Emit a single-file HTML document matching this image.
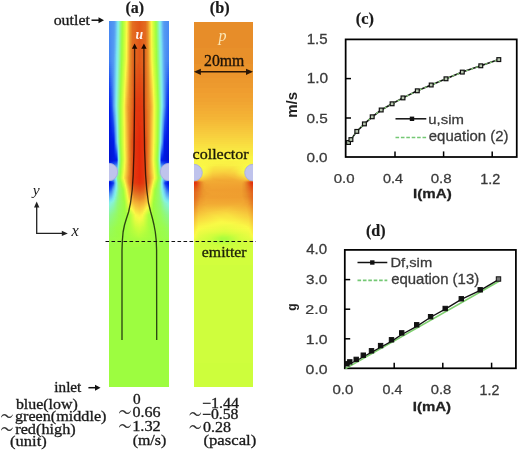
<!DOCTYPE html>
<html><head><meta charset="utf-8"><style>
html,body{margin:0;padding:0;background:#fff;width:520px;height:454px;overflow:hidden}
.f{position:absolute}
.f i{display:block}
svg{position:absolute;left:0;top:0}
</style></head><body>
<div class="f" style="left:109px;top:21px;width:60px;height:366px"><i style="height:3px;background:linear-gradient(90deg,#498cf2 0.5px,#5197f2 4.5px,#569ef2 5.5px,#63b0f2 6.5px,#7ce5ed 8.5px,#86f1e0 9.5px,#8af4b7 10.5px,#8ef787 11.5px,#96fa5f 12.5px,#a1fd3f 13.5px,#c8fe3c 15.5px,#f4fb45 17.5px,#f9e642 18.5px,#f2a933 20.5px,#e9922b 21.5px,#e47022 23.5px,#e2621d 26.5px,#e15819 30.5px,#e36c21 36.5px,#e78e29 38.5px,#f1a331 39.5px,#f9e141 41.5px,#f8fa46 42.5px,#ccfe3c 44.5px,#a4fd3f 46.5px,#98fb57 47.5px,#90f87f 48.5px,#87f2db 50.5px,#7ee8ea 51.5px,#71d0f2 52.5px,#65b4f2 53.5px,#59a2f2 54.5px,#5298f2 55.5px,#4a8cf2 59.5px)"></i><i style="height:3px;background:linear-gradient(90deg,#498bf2 0.5px,#5197f2 4.5px,#57a0f2 5.5px,#64b2f2 6.5px,#6fccf2 7.5px,#7de6ec 8.5px,#87f1df 9.5px,#8ff784 11.5px,#97fb5d 12.5px,#a2fd3f 13.5px,#c9fe3c 15.5px,#f4fa45 17.5px,#f9e542 18.5px,#f1a933 20.5px,#e9912b 21.5px,#e46f21 23.5px,#e25f1c 27.5px,#e15819 30.5px,#e36c20 36.5px,#e78d29 38.5px,#f0a331 39.5px,#f9fa46 42.5px,#cdfe3c 44.5px,#a5fd3e 46.5px,#98fb55 47.5px,#90f87d 48.5px,#87f2d8 50.5px,#7ee8e9 51.5px,#72d2f2 52.5px,#66b6f2 53.5px,#5aa3f2 54.5px,#5298f2 55.5px,#498bf2 59.5px)"></i><i style="height:3px;background:linear-gradient(90deg,#488af2 0.5px,#5298f2 4.5px,#58a1f2 5.5px,#65b4f2 6.5px,#70cef2 7.5px,#7de7eb 8.5px,#87f2dd 9.5px,#8ff782 11.5px,#97fb5b 12.5px,#a2fd3f 13.5px,#cafe3c 15.5px,#f5fa45 17.5px,#f9e442 18.5px,#f1a832 20.5px,#e9912a 21.5px,#e46f21 23.5px,#e25c1b 28.5px,#e15819 30.5px,#e36c20 36.5px,#e78d29 38.5px,#f0a231 39.5px,#fafa46 42.5px,#cefe3c 44.5px,#a6fd3e 46.5px,#99fb53 47.5px,#8bf5a8 49.5px,#88f3d5 50.5px,#7fe9e8 51.5px,#73d4f2 52.5px,#67b8f2 53.5px,#5ba5f2 54.5px,#5299f2 55.5px,#498bf2 59.5px)"></i><i style="height:3px;background:linear-gradient(90deg,#4889f2 0.5px,#5298f2 4.5px,#59a2f2 5.5px,#66b6f2 6.5px,#71d0f2 7.5px,#7ee8ea 8.5px,#87f2db 9.5px,#8ff880 11.5px,#98fb59 12.5px,#a3fd3f 13.5px,#cbfe3c 15.5px,#f6fa45 17.5px,#f9e342 18.5px,#f1a732 20.5px,#e9902a 21.5px,#e46f21 23.5px,#e15919 29.5px,#e2611d 33.5px,#e36c20 36.5px,#e78c29 38.5px,#f0a130 39.5px,#faf946 42.5px,#cffe3d 44.5px,#a7fd3e 46.5px,#99fc51 47.5px,#8cf5a5 49.5px,#88f3d3 50.5px,#80eae8 51.5px,#73d6f2 52.5px,#67baf2 53.5px,#5ba6f2 54.5px,#5399f2 55.5px,#488af2 59.5px)"></i><i style="height:3px;background:linear-gradient(90deg,#4789f2 0.5px,#5298f2 4.5px,#5aa3f2 5.5px,#66b7f2 6.5px,#72d2f2 7.5px,#7ee8e9 8.5px,#87f2d8 9.5px,#90f87e 11.5px,#98fb56 12.5px,#a4fd3f 13.5px,#cbfe3c 15.5px,#f7fa45 17.5px,#f6c63b 19.5px,#f1a632 20.5px,#e8902a 21.5px,#e46e21 23.5px,#e15919 29.5px,#e2611d 33.5px,#e36c20 36.5px,#e78c29 38.5px,#f0a130 39.5px,#faf846 42.5px,#d0fe3d 44.5px,#a8fd3e 46.5px,#9afc4f 47.5px,#8cf5a2 49.5px,#88f3d0 50.5px,#80ebe7 51.5px,#74d8f2 52.5px,#68bcf2 53.5px,#5ca7f2 54.5px,#539af2 55.5px,#4889f2 59.5px)"></i><i style="height:3px;background:linear-gradient(90deg,#4788f2 0.5px,#5299f2 4.5px,#5ba5f2 5.5px,#67b9f2 6.5px,#73d4f2 7.5px,#7fe9e9 8.5px,#88f2d5 9.5px,#90f87c 11.5px,#99fb54 12.5px,#a5fd3e 13.5px,#ccfe3c 15.5px,#f8fa46 17.5px,#f6c53b 19.5px,#f1a532 20.5px,#e88f2a 21.5px,#e46e21 23.5px,#e15819 30.5px,#e36b20 36.5px,#e78c29 38.5px,#f0a030 39.5px,#faf745 42.5px,#bbfe3d 45.5px,#a9fd3e 46.5px,#9afc4d 47.5px,#8cf69f 49.5px,#88f3cd 50.5px,#81ebe6 51.5px,#75daf2 52.5px,#69bef2 53.5px,#5da8f2 54.5px,#549af2 55.5px,#4789f2 59.5px)"></i><i style="height:3px;background:linear-gradient(90deg,#4687f2 0.5px,#5299f2 4.5px,#5ca6f2 5.5px,#68bbf2 6.5px,#74d7f2 7.5px,#80eae8 8.5px,#88f3d3 9.5px,#91f87a 11.5px,#99fb52 12.5px,#a6fd3e 13.5px,#cdfe3c 15.5px,#f9fa46 17.5px,#f6c43a 19.5px,#f1a531 20.5px,#e88f2a 21.5px,#e36e21 23.5px,#e15819 30.5px,#e36b20 36.5px,#e78b29 38.5px,#f09f30 39.5px,#faf645 42.5px,#bcfe3d 45.5px,#a9fd3e 46.5px,#9bfc4b 47.5px,#8cf69d 49.5px,#89f3ca 50.5px,#82ece5 51.5px,#76dcf2 52.5px,#6ac0f2 53.5px,#5eaaf2 54.5px,#549bf2 55.5px,#4788f2 59.5px)"></i><i style="height:3px;background:linear-gradient(90deg,#4586f2 0.5px,#5399f2 4.5px,#5ca7f2 5.5px,#69bdf2 6.5px,#74d9f2 7.5px,#80eae7 8.5px,#88f3d0 9.5px,#91f877 11.5px,#99fc50 12.5px,#a7fd3e 13.5px,#cefe3c 15.5px,#fafa46 17.5px,#f1a431 20.5px,#e88e29 21.5px,#e36d21 23.5px,#e15819 30.5px,#e36b20 36.5px,#e78b29 38.5px,#ef9f30 39.5px,#faf545 42.5px,#d3fd3d 44.5px,#aafd3e 46.5px,#9bfc49 47.5px,#8cf69a 49.5px,#89f3c8 50.5px,#82ede4 51.5px,#77def2 52.5px,#5fabf2 54.5px,#549cf2 55.5px,#4687f2 59.5px)"></i><i style="height:3px;background:linear-gradient(90deg,#4485f2 0.5px,#5399f2 4.5px,#5da8f2 5.5px,#69bef2 6.5px,#75dbf2 7.5px,#81ebe6 8.5px,#88f3ce 9.5px,#92f875 11.5px,#9afc4e 12.5px,#a8fd3e 13.5px,#cffe3d 15.5px,#fafa46 17.5px,#f0a331 20.5px,#e78e29 21.5px,#e36d21 23.5px,#e15819 30.5px,#e36b20 36.5px,#e78a28 38.5px,#ef9e2f 39.5px,#faf445 42.5px,#d3fd3e 44.5px,#abfd3e 46.5px,#9bfc47 47.5px,#8df697 49.5px,#89f3c5 50.5px,#83ede3 51.5px,#78e0f2 52.5px,#60acf2 54.5px,#559cf2 55.5px,#498bf2 58.5px,#4586f2 59.5px)"></i><i style="height:3px;background:linear-gradient(90deg,#4484f2 0.5px,#539af2 4.5px,#5ea9f2 5.5px,#6ac0f2 6.5px,#76ddf2 7.5px,#82ece5 8.5px,#89f3cb 9.5px,#92f973 11.5px,#9afc4c 12.5px,#a8fd3e 13.5px,#d0fe3d 15.5px,#faf946 17.5px,#f0a231 20.5px,#e78d29 21.5px,#e36d21 23.5px,#e15819 30.5px,#e36b20 36.5px,#e78a28 38.5px,#ef9d2f 39.5px,#faf345 42.5px,#eafb42 43.5px,#bffe3d 45.5px,#9cfd45 47.5px,#8df695 49.5px,#89f4c2 50.5px,#84eee3 51.5px,#79e2f1 52.5px,#61adf2 54.5px,#559df2 55.5px,#4b8ff2 57.5px,#4585f2 59.5px)"></i><i style="height:3px;background:linear-gradient(90deg,#4383f2 0.5px,#539af2 4.5px,#5fabf2 5.5px,#6bc2f2 6.5px,#77dff2 7.5px,#82ede4 8.5px,#89f3c9 9.5px,#93f971 11.5px,#9bfc4a 12.5px,#a9fd3e 13.5px,#d1fe3d 15.5px,#faf846 17.5px,#f0a130 20.5px,#e78d29 21.5px,#e36c21 23.5px,#e15819 30.5px,#e36b20 36.5px,#e78a28 38.5px,#ee9d2f 39.5px,#faf345 42.5px,#ebfb43 43.5px,#c0fe3d 45.5px,#9cfd43 47.5px,#8df692 49.5px,#89f4c0 50.5px,#84efe2 51.5px,#7ae3f0 52.5px,#62aff2 54.5px,#559df2 55.5px,#4b8ef2 57.5px,#4484f2 59.5px)"></i><i style="height:3px;background:linear-gradient(90deg,#4282f2 0.5px,#549af2 4.5px,#60acf2 5.5px,#78e1f2 7.5px,#83ede3 8.5px,#89f3c6 9.5px,#93f96f 11.5px,#9bfc48 12.5px,#aafd3e 13.5px,#d2fd3d 15.5px,#faf745 17.5px,#f0a030 20.5px,#e78c29 21.5px,#e36c20 23.5px,#e15819 30.5px,#e36a20 36.5px,#e78928 38.5px,#ee9c2f 39.5px,#faf244 42.5px,#ebfb43 43.5px,#aefd3e 46.5px,#9dfd41 47.5px,#8df78f 49.5px,#8af4bd 50.5px,#85f0e1 51.5px,#7be4ee 52.5px,#62b0f2 54.5px,#569ef2 55.5px,#4b8ef2 57.5px,#4383f2 59.5px)"></i><i style="height:3px;background:linear-gradient(90deg,#4180f2 0.5px,#549bf2 4.5px,#6cc5f2 6.5px,#79e2f1 7.5px,#84eee3 8.5px,#89f4c3 9.5px,#93f96d 11.5px,#9cfc46 12.5px,#abfd3e 13.5px,#d3fd3d 15.5px,#faf645 17.5px,#f0a030 20.5px,#e78c29 21.5px,#e36c20 23.5px,#e15819 30.5px,#e36a20 36.5px,#e78928 38.5px,#ee9b2e 39.5px,#faf144 42.5px,#ecfb43 43.5px,#affd3e 46.5px,#9dfd3f 47.5px,#8ef78c 49.5px,#8af4ba 50.5px,#86f0e0 51.5px,#7ce5ed 52.5px,#63b1f2 54.5px,#569ef2 55.5px,#4e93f2 56.5px,#4282f2 59.5px)"></i><i style="height:2px;background:linear-gradient(90deg,#407ef2 0.5px,#549bf2 4.5px,#6dc7f2 6.5px,#7ae3ef 7.5px,#84efe2 8.5px,#89f4c1 9.5px,#94f96a 11.5px,#9cfd44 12.5px,#bffe3d 14.5px,#e9fb42 16.5px,#faf445 17.5px,#ef9f2f 20.5px,#e78c29 21.5px,#e36b20 23.5px,#e15819 30.5px,#e36a20 36.5px,#e78828 38.5px,#ed9b2e 39.5px,#f9ef44 42.5px,#eefb43 43.5px,#c3fe3d 45.5px,#9efd3f 47.5px,#8ef789 49.5px,#8af4b7 50.5px,#86f1df 51.5px,#7de6ec 52.5px,#70cdf2 53.5px,#64b2f2 54.5px,#579ff2 55.5px,#4e92f2 56.5px,#4180f2 59.5px)"></i><i style="height:2px;background:linear-gradient(90deg,#3c7af2 0.5px,#549af2 4.5px,#6dc8f2 6.5px,#7ae4ef 7.5px,#85f0e1 8.5px,#8af4be 9.5px,#8df790 10.5px,#9dfd41 12.5px,#d6fd3e 15.5px,#ecfb43 16.5px,#faf244 17.5px,#ef9d2f 20.5px,#e78b29 21.5px,#e36b20 23.5px,#e15618 30.5px,#e36920 36.5px,#ed9a2e 39.5px,#f9ec43 42.5px,#f0fb44 43.5px,#c5fe3c 45.5px,#a0fd3f 47.5px,#8ef786 49.5px,#87f2de 51.5px,#7de7eb 52.5px,#70cef2 53.5px,#64b3f2 54.5px,#569ef2 55.5px,#4d91f2 56.5px,#3d7bf2 59.5px)"></i><i style="height:2px;background:linear-gradient(90deg,#3975f1 0.5px,#539af2 4.5px,#6ec9f2 6.5px,#7be4ee 7.5px,#85f0e0 8.5px,#8af4bb 9.5px,#8ef78d 10.5px,#9dfd3f 12.5px,#d8fd3f 15.5px,#eefb43 16.5px,#f9ef44 17.5px,#ee9c2f 20.5px,#e78a28 21.5px,#e36b20 23.5px,#e15518 29.5px,#e2611d 34.5px,#e36920 36.5px,#ec992d 39.5px,#f9ea43 42.5px,#f3fb44 43.5px,#c7fe3c 45.5px,#a1fd3f 47.5px,#97fa5d 48.5px,#8ff784 49.5px,#87f2dd 51.5px,#7ee7eb 52.5px,#70cff2 53.5px,#64b3f2 54.5px,#569ef2 55.5px,#4c90f2 56.5px,#3a77f1 59.5px)"></i><i style="height:2px;background:linear-gradient(90deg,#3570f1 0.5px,#539af2 4.5px,#6ec9f2 6.5px,#7be5ed 7.5px,#86f1df 8.5px,#8af4b9 9.5px,#8ef78a 10.5px,#9ffd3f 12.5px,#dbfd3f 15.5px,#f1fb44 16.5px,#f9ec43 17.5px,#ee9b2e 20.5px,#e57a25 22.5px,#e36a20 23.5px,#e15417 29.5px,#e25f1c 34.5px,#e3691f 36.5px,#ec972d 39.5px,#f9e742 42.5px,#f5fa45 43.5px,#c9fe3c 45.5px,#a3fd3f 47.5px,#97fb5b 48.5px,#8ff781 49.5px,#87f2da 51.5px,#7ee8ea 52.5px,#71d0f2 53.5px,#65b3f2 54.5px,#569ef2 55.5px,#4c8ff2 56.5px,#3772f1 59.5px)"></i><i style="height:2px;background:linear-gradient(90deg,#326bf1 0.5px,#5399f2 4.5px,#6ecaf2 6.5px,#7ce6ed 7.5px,#87f2df 8.5px,#8af4b6 9.5px,#8ef787 10.5px,#96fa60 11.5px,#a0fd3f 12.5px,#c7fe3c 14.5px,#f3fb45 16.5px,#f9ea43 17.5px,#ed9a2e 20.5px,#e57a25 22.5px,#e36a20 23.5px,#e15518 28.5px,#e15418 31.5px,#e3681f 36.5px,#eb962c 39.5px,#f9e442 42.5px,#f8fa46 43.5px,#cbfe3c 45.5px,#a4fd3f 47.5px,#98fb58 48.5px,#90f87f 49.5px,#87f2d8 51.5px,#7fe8e9 52.5px,#71d1f2 53.5px,#65b4f2 54.5px,#569ef2 55.5px,#4b8ef2 56.5px,#336df1 59.5px)"></i><i style="height:2px;background:linear-gradient(90deg,#2e66f1 0.5px,#5399f2 4.5px,#6fcbf2 6.5px,#7ce6ec 7.5px,#87f2dd 8.5px,#8ff784 10.5px,#97fa5d 11.5px,#a2fd3f 12.5px,#c9fe3c 14.5px,#f6fa45 16.5px,#f9e742 17.5px,#ed992d 20.5px,#e36920 23.5px,#e15618 27.5px,#e15016 30.5px,#e2621d 35.5px,#e3681f 36.5px,#eb952c 39.5px,#f9e241 42.5px,#faf946 43.5px,#cdfe3c 45.5px,#a6fd3e 47.5px,#98fb55 48.5px,#90f87c 49.5px,#88f2d6 51.5px,#7fe9e9 52.5px,#71d1f2 53.5px,#65b4f2 54.5px,#4a8df2 56.5px,#3069f1 59.5px)"></i><i style="height:2px;background:linear-gradient(90deg,#2b62f1 0.5px,#5299f2 4.5px,#6fccf2 6.5px,#7de7eb 7.5px,#87f2db 8.5px,#8ff782 10.5px,#97fb5a 11.5px,#a3fd3f 12.5px,#cbfe3c 14.5px,#f8fa46 16.5px,#f3b135 19.5px,#ec982d 20.5px,#e3691f 23.5px,#e15518 27.5px,#e14f16 30.5px,#e2611d 35.5px,#e2671f 36.5px,#ea942c 39.5px,#f9df41 42.5px,#faf745 43.5px,#cffe3d 45.5px,#a7fd3e 47.5px,#99fb53 48.5px,#91f87a 49.5px,#88f3d3 51.5px,#7fe9e8 52.5px,#72d2f2 53.5px,#65b5f2 54.5px,#498bf2 56.5px,#2c64f1 59.5px)"></i><i style="height:2px;background:linear-gradient(90deg,#275df1 0.5px,#5298f2 4.5px,#6fcdf2 6.5px,#7de7eb 7.5px,#87f2d9 8.5px,#90f87f 10.5px,#98fb58 11.5px,#a5fd3f 12.5px,#ccfe3c 14.5px,#faf946 16.5px,#f3af35 19.5px,#ec972d 20.5px,#e3681f 23.5px,#e15618 26.5px,#e14d15 30.5px,#e1591a 34.5px,#e2671f 36.5px,#ea932b 39.5px,#f9dc40 42.5px,#faf445 43.5px,#d1fe3d 45.5px,#a9fd3e 47.5px,#99fc50 48.5px,#91f877 49.5px,#88f3d1 51.5px,#80eae7 52.5px,#72d3f2 53.5px,#65b5f2 54.5px,#488af2 56.5px,#295ff1 59.5px)"></i><i style="height:2px;background:linear-gradient(90deg,#2458f1 0.5px,#4586f2 3.5px,#5298f2 4.5px,#70cef2 6.5px,#7ee8ea 7.5px,#88f2d7 8.5px,#90f87d 10.5px,#98fb55 11.5px,#a6fd3e 12.5px,#cefe3d 14.5px,#faf645 16.5px,#f2ae34 19.5px,#eb952c 20.5px,#e3681f 23.5px,#e15418 26.5px,#e14c15 30.5px,#e15819 34.5px,#e2661f 36.5px,#e9922b 39.5px,#f5c13a 41.5px,#faf144 43.5px,#eafb43 44.5px,#befe3d 46.5px,#aafd3e 47.5px,#9afc4e 48.5px,#8cf5a2 50.5px,#88f3cf 51.5px,#80ebe7 52.5px,#72d4f2 53.5px,#559df2 55.5px,#3069f1 58.5px,#265bf1 59.5px)"></i><i style="height:2px;background:linear-gradient(90deg,#2053f0 0.5px,#4484f2 3.5px,#63b1f2 5.5px,#70cef2 6.5px,#7ee8e9 7.5px,#88f3d4 8.5px,#91f87a 10.5px,#99fb53 11.5px,#a8fd3e 12.5px,#d0fe3d 14.5px,#faf445 16.5px,#f2ac33 19.5px,#ea942c 20.5px,#e3681f 23.5px,#e15217 26.5px,#e14a14 30.5px,#e15618 34.5px,#e2661e 36.5px,#e9912a 39.5px,#f5be39 41.5px,#f9ef44 43.5px,#ecfb43 44.5px,#bffe3d 46.5px,#acfd3e 47.5px,#9bfc4b 48.5px,#8cf69f 50.5px,#88f3cc 51.5px,#81ebe6 52.5px,#73d5f2 53.5px,#559df2 55.5px,#2d65f1 58.5px,#2256f0 59.5px)"></i><i style="height:2px;background:linear-gradient(90deg,#1d4ff0 0.5px,#4282f2 3.5px,#63b1f2 5.5px,#70cff2 6.5px,#7fe9e9 7.5px,#88f3d2 8.5px,#91f878 10.5px,#99fc50 11.5px,#a9fd3e 12.5px,#d2fd3d 14.5px,#eafb42 15.5px,#faf144 16.5px,#f2aa33 19.5px,#ea932b 20.5px,#e2671f 23.5px,#e15116 26.5px,#e24914 30.5px,#e15518 34.5px,#e2651e 36.5px,#e8902a 39.5px,#f5bc38 41.5px,#f9ec43 43.5px,#effb44 44.5px,#c1fe3d 46.5px,#adfd3e 47.5px,#9bfc48 48.5px,#8cf69c 50.5px,#89f3ca 51.5px,#81ece5 52.5px,#73d6f2 53.5px,#559cf2 55.5px,#2a61f1 58.5px,#1f51f0 59.5px)"></i><i style="height:2px;background:linear-gradient(90deg,#194af0 0.5px,#4180f2 3.5px,#63b1f2 5.5px,#71d0f2 6.5px,#7fe9e8 7.5px,#88f3d0 8.5px,#92f876 10.5px,#9afc4d 11.5px,#abfd3e 12.5px,#d4fd3e 14.5px,#ecfb43 15.5px,#f9ee44 16.5px,#f1a832 19.5px,#e9922b 20.5px,#e2671f 23.5px,#e14f16 26.5px,#e24713 30.5px,#e15317 34.5px,#e2651e 36.5px,#e88f2a 39.5px,#f4ba37 41.5px,#f9e943 43.5px,#f1fb44 44.5px,#c3fe3d 46.5px,#affd3e 47.5px,#9cfc46 48.5px,#8cf69a 50.5px,#89f3c8 51.5px,#82ece5 52.5px,#74d7f2 53.5px,#559cf2 55.5px,#356ff1 57.5px,#1b4df0 59.5px)"></i><i style="height:2px;background:linear-gradient(90deg,#1746f0 0.5px,#3f7ef2 3.5px,#64b1f2 5.5px,#71d1f2 6.5px,#80eae7 7.5px,#88f3ce 8.5px,#92f973 10.5px,#9bfc4b 11.5px,#acfd3e 12.5px,#d6fd3e 14.5px,#eefb43 15.5px,#f9ec43 16.5px,#f1a632 19.5px,#e9912a 20.5px,#e2661f 23.5px,#e14d15 26.5px,#e24613 30.5px,#e15217 34.5px,#e2641e 36.5px,#e78e29 39.5px,#f4b737 41.5px,#f9e642 43.5px,#f3fb44 44.5px,#c5fe3c 46.5px,#9cfd43 48.5px,#8df697 50.5px,#89f3c5 51.5px,#82ede4 52.5px,#74d8f2 53.5px,#559cf2 55.5px,#326cf1 57.5px,#1848f0 59.5px)"></i><i style="height:2px;background:linear-gradient(90deg,#1543ef 0.5px,#2d65f1 2.5px,#5196f2 4.5px,#71d2f2 6.5px,#80ebe7 7.5px,#88f3cc 8.5px,#93f971 10.5px,#9bfc48 11.5px,#aefd3e 12.5px,#d8fd3f 14.5px,#f0fb44 15.5px,#f9e943 16.5px,#f1a431 19.5px,#e8902a 20.5px,#e25c1b 24.5px,#e14c15 26.5px,#e24413 30.5px,#e15016 34.5px,#e2641e 36.5px,#e78d29 39.5px,#f3b536 41.5px,#f9e442 43.5px,#f5fa45 44.5px,#c6fe3c 46.5px,#9dfd40 48.5px,#8df694 50.5px,#89f4c3 51.5px,#83ede3 52.5px,#74d8f2 53.5px,#549cf2 55.5px,#3069f1 57.5px,#1645ef 59.5px)"></i><i style="height:2px;background:linear-gradient(90deg,#133fee 0.5px,#1c4df0 1.5px,#3c7af2 3.5px,#64b2f2 5.5px,#72d2f2 6.5px,#81ebe6 7.5px,#89f3c9 8.5px,#93f96e 10.5px,#9cfc46 11.5px,#affd3e 12.5px,#dafd3f 14.5px,#f2fb44 15.5px,#f9e642 16.5px,#f0a331 19.5px,#e88f2a 20.5px,#e25b1a 24.5px,#e14a14 26.5px,#e24312 30.5px,#e14e16 34.5px,#e47222 37.5px,#e78c29 39.5px,#f3b235 41.5px,#f7fa45 44.5px,#c8fe3c 46.5px,#9efd3f 48.5px,#8df692 50.5px,#89f4c1 51.5px,#83eee3 52.5px,#75d9f2 53.5px,#549bf2 55.5px,#2e66f1 57.5px,#1441ef 59.5px)"></i><i style="height:2px;background:linear-gradient(90deg,#113cee 0.5px,#1949f0 1.5px,#3b77f2 3.5px,#64b2f2 5.5px,#72d3f2 6.5px,#81ece5 7.5px,#89f3c7 8.5px,#94f96c 10.5px,#9cfd43 11.5px,#c5fe3c 13.5px,#f4fa45 15.5px,#f9e442 16.5px,#f0a130 19.5px,#e78d29 20.5px,#e14f16 25.5px,#e24613 27.5px,#e24412 31.5px,#e14d15 34.5px,#e47122 37.5px,#e78b29 39.5px,#f3b035 41.5px,#f9de41 43.5px,#fafa46 44.5px,#cafe3c 46.5px,#9ffd3f 48.5px,#95fa63 49.5px,#8af4be 51.5px,#84efe2 52.5px,#75daf2 53.5px,#549bf2 55.5px,#2c63f1 57.5px,#1c4ef0 58.5px,#133eee 59.5px)"></i><i style="height:2px;background:linear-gradient(90deg,#1038ed 0.5px,#1746f0 1.5px,#3975f1 3.5px,#64b2f2 5.5px,#72d4f2 6.5px,#82ece5 7.5px,#89f3c5 8.5px,#94f969 10.5px,#9dfd40 11.5px,#c7fe3c 13.5px,#f6fa45 15.5px,#f7c93c 17.5px,#ef9f30 19.5px,#e78c29 20.5px,#e14e15 25.5px,#e24413 27.5px,#e24212 31.5px,#e14b15 34.5px,#e47122 37.5px,#e78a28 39.5px,#f2ad34 41.5px,#f9db40 43.5px,#faf846 44.5px,#ccfe3c 46.5px,#a1fd3f 48.5px,#96fa61 49.5px,#8af4bc 51.5px,#84efe1 52.5px,#75dbf2 53.5px,#549bf2 55.5px,#2a60f1 57.5px,#194af0 58.5px,#113bee 59.5px)"></i><i style="height:2px;background:linear-gradient(90deg,#0e35ed 0.5px,#1543ef 1.5px,#3873f1 3.5px,#64b3f2 5.5px,#73d5f2 6.5px,#82ede4 7.5px,#89f4c3 8.5px,#95fa67 10.5px,#9efd3f 11.5px,#c9fe3c 13.5px,#f9fa46 15.5px,#f3b035 18.5px,#e78c29 20.5px,#e14c15 25.5px,#e24312 27.5px,#e24011 31.5px,#e14a14 34.5px,#e78928 39.5px,#f2ab33 41.5px,#f8d940 43.5px,#faf645 44.5px,#cdfe3c 46.5px,#a2fd3f 48.5px,#96fa5e 49.5px,#8af4ba 51.5px,#85f0e1 52.5px,#76dcf2 53.5px,#549bf2 55.5px,#285df1 57.5px,#1746f0 58.5px,#0f38ed 59.5px)"></i><i style="height:2px;background:linear-gradient(90deg,#0c32ec 0.5px,#1440ef 1.5px,#2255f0 2.5px,#3671f1 3.5px,#64b3f2 5.5px,#73d6f2 6.5px,#83ede3 7.5px,#89f4c0 8.5px,#95fa64 10.5px,#9ffd3f 11.5px,#cafe3c 13.5px,#faf946 15.5px,#f6c43a 17.5px,#ed9b2e 19.5px,#e68026 21.5px,#e14b14 25.5px,#e24112 27.5px,#e23f11 31.5px,#e24814 34.5px,#e78928 39.5px,#f1a933 41.5px,#f8d63f 43.5px,#faf345 44.5px,#e6fc42 45.5px,#b9fe3d 47.5px,#a4fd3f 48.5px,#97fb5c 49.5px,#8af4b7 51.5px,#85f0e0 52.5px,#76ddf2 53.5px,#549bf2 55.5px,#255af1 57.5px,#1644ef 58.5px,#0d34ec 59.5px)"></i><i style="height:2px;background:linear-gradient(90deg,#0a2eeb 0.5px,#2052f0 2.5px,#356ff1 3.5px,#65b3f2 5.5px,#74d6f2 6.5px,#83eee3 7.5px,#8af4be 8.5px,#96fa62 10.5px,#a1fd3f 11.5px,#ccfe3c 13.5px,#faf745 15.5px,#f8d940 16.5px,#f2ab33 18.5px,#e78a28 20.5px,#e14914 25.5px,#e24212 26.5px,#e33c10 30.5px,#e24713 34.5px,#eb952c 40.5px,#f5bd38 42.5px,#f8d33f 43.5px,#faf144 44.5px,#e8fc42 45.5px,#bbfe3d 47.5px,#a5fd3e 48.5px,#98fb59 49.5px,#8af4b5 51.5px,#86f1df 52.5px,#77def2 53.5px,#539af2 55.5px,#2357f0 57.5px,#1441ef 58.5px,#0c31ec 59.5px)"></i><i style="height:2px;background:linear-gradient(90deg,#082beb 0.5px,#1d4ff0 2.5px,#336df1 3.5px,#4f94f2 4.5px,#65b3f2 5.5px,#74d7f2 6.5px,#84efe2 7.5px,#8af4bc 8.5px,#96fa60 10.5px,#a2fd3f 11.5px,#cefe3c 13.5px,#faf545 15.5px,#f8d63f 16.5px,#f1a832 18.5px,#e78928 20.5px,#e24814 25.5px,#e24011 26.5px,#e33a0f 30.5px,#e23f11 33.5px,#e24513 34.5px,#ea942b 40.5px,#f1a431 41.5px,#f8d03e 43.5px,#f9ef44 44.5px,#eafb43 45.5px,#bcfe3d 47.5px,#a6fd3e 48.5px,#98fb57 49.5px,#8af4b3 51.5px,#86f1df 52.5px,#77dff2 53.5px,#539af2 55.5px,#2154f0 57.5px,#0a2eeb 59.5px)"></i><i style="height:2px;background:linear-gradient(90deg,#0628ea 0.5px,#1b4cf0 2.5px,#326bf1 3.5px,#4f93f2 4.5px,#65b4f2 5.5px,#74d8f2 6.5px,#84efe1 7.5px,#8af4ba 8.5px,#97fa5d 10.5px,#a4fd3f 11.5px,#cffe3d 13.5px,#e7fc42 14.5px,#faf245 15.5px,#f8d43f 16.5px,#f1a632 18.5px,#e78828 20.5px,#e15518 24.5px,#e23e11 26.5px,#e33a0f 31.5px,#e24412 34.5px,#e67c25 38.5px,#e9922b 40.5px,#f0a130 41.5px,#f8ce3d 43.5px,#f9ec43 44.5px,#ecfb43 45.5px,#befe3d 47.5px,#a8fd3e 48.5px,#99fb54 49.5px,#8bf5b0 51.5px,#87f2de 52.5px,#77dff2 53.5px,#539af2 55.5px,#1f51f0 57.5px,#082beb 59.5px)"></i><i style="height:2px;background:linear-gradient(90deg,#0524ea 0.5px,#1949f0 2.5px,#3069f1 3.5px,#4e93f2 4.5px,#65b4f2 5.5px,#75d9f2 6.5px,#85f0e1 7.5px,#8af4b7 8.5px,#97fb5b 10.5px,#a5fd3e 11.5px,#d1fe3d 13.5px,#e9fb42 14.5px,#faf044 15.5px,#f8d13e 16.5px,#f1a331 18.5px,#e78728 20.5px,#e2621d 23.5px,#e24513 25.5px,#e23d10 26.5px,#e3390f 31.5px,#e24212 34.5px,#e67b25 38.5px,#e8902a 40.5px,#ef9f30 41.5px,#f7cb3d 43.5px,#f9ea43 44.5px,#eefb43 45.5px,#bffe3d 47.5px,#a9fd3e 48.5px,#99fb52 49.5px,#8bf5ae 51.5px,#87f2dd 52.5px,#78e0f2 53.5px,#539af2 55.5px,#1d4ff0 57.5px,#0627ea 59.5px)"></i><i style="height:1px;background:linear-gradient(90deg,#0322e9 0.5px,#1746f0 2.5px,#2e66f1 3.5px,#4d91f2 4.5px,#64b3f2 5.5px,#74d8f2 6.5px,#85f0e1 7.5px,#8af4b7 8.5px,#98fb59 10.5px,#a6fd3e 11.5px,#d2fd3d 13.5px,#ebfb43 14.5px,#f9ef44 15.5px,#f8cf3e 16.5px,#f0a230 18.5px,#e9912a 19.5px,#e47022 22.5px,#e24412 25.5px,#e33b10 26.5px,#e3370f 31.5px,#e33b10 33.5px,#e24112 34.5px,#e57a25 38.5px,#e88e2a 40.5px,#ef9d2f 41.5px,#f7c93c 43.5px,#f9e843 44.5px,#effb44 45.5px,#c0fe3d 47.5px,#aafd3e 48.5px,#99fc50 49.5px,#8bf5ad 51.5px,#87f2dd 52.5px,#77e0f2 53.5px,#5298f2 55.5px,#1a4bf0 57.5px,#0524ea 59.5px)"></i><i style="height:1px;background:linear-gradient(90deg,#0321e9 0.5px,#1645ef 2.5px,#2c63f1 3.5px,#4b8ff2 4.5px,#63b0f2 5.5px,#73d6f2 6.5px,#84eee2 7.5px,#8af4b9 8.5px,#97fb5a 10.5px,#a6fd3e 11.5px,#d2fd3d 13.5px,#eafb43 14.5px,#f9ef44 15.5px,#f8d03e 16.5px,#f0a231 18.5px,#e9912b 19.5px,#e46f22 22.5px,#e24412 25.5px,#e33b10 26.5px,#e3370f 31.5px,#e24111 34.5px,#e57a25 38.5px,#e88f2a 40.5px,#ef9d2f 41.5px,#f7ca3c 43.5px,#f9e943 44.5px,#effb44 45.5px,#c0fe3d 47.5px,#aafd3e 48.5px,#99fc51 49.5px,#8bf5af 51.5px,#86f1df 52.5px,#76ddf2 53.5px,#66b8f2 54.5px,#5095f2 55.5px,#1949f0 57.5px,#0424e9 59.5px)"></i><i style="height:1px;background:linear-gradient(90deg,#0220e9 0.5px,#1543ef 2.5px,#2a61f1 3.5px,#498cf2 4.5px,#61aef2 5.5px,#72d3f2 6.5px,#83ede3 7.5px,#8af4bb 8.5px,#97fb5b 10.5px,#a6fd3e 11.5px,#d2fd3d 13.5px,#eafb43 14.5px,#f9ef44 15.5px,#f8d03e 16.5px,#f0a331 18.5px,#e9912b 19.5px,#e2611d 23.5px,#e24312 25.5px,#e33b10 26.5px,#e3370e 31.5px,#e24011 34.5px,#e57a25 38.5px,#e88f2a 40.5px,#ef9e2f 41.5px,#f7ca3c 43.5px,#f9e943 44.5px,#effb44 45.5px,#c0fe3d 47.5px,#aafd3e 48.5px,#99fb52 49.5px,#86f0e0 52.5px,#75dbf2 53.5px,#65b5f2 54.5px,#1847f0 57.5px,#0423e9 59.5px)"></i><i style="height:1px;background:linear-gradient(90deg,#021fe9 0.5px,#1542ef 2.5px,#285ef1 3.5px,#4889f2 4.5px,#71d1f2 6.5px,#82ece5 7.5px,#8af4bd 8.5px,#97fb5b 10.5px,#a5fd3e 11.5px,#d2fe3d 13.5px,#eafb43 14.5px,#f9ef44 15.5px,#f8d13e 16.5px,#f1a331 18.5px,#e9912b 19.5px,#e2601c 23.5px,#e24312 25.5px,#e33a10 26.5px,#e3370e 31.5px,#e24011 34.5px,#e68427 39.5px,#e88f2a 40.5px,#ef9e2f 41.5px,#f7cb3c 43.5px,#f9e943 44.5px,#effb44 45.5px,#c0fe3d 47.5px,#aafd3e 48.5px,#99fb52 49.5px,#85efe1 52.5px,#74d9f2 53.5px,#64b2f2 54.5px,#2e67f1 56.5px,#1746f0 57.5px,#0322e9 59.5px)"></i><i style="height:1px;background:linear-gradient(90deg,#011fe8 0.5px,#1440ef 2.5px,#265bf1 3.5px,#4586f2 4.5px,#70cff2 6.5px,#81ebe6 7.5px,#89f4bf 8.5px,#97fb5c 10.5px,#a5fd3e 11.5px,#d1fe3d 13.5px,#eafb42 14.5px,#faf044 15.5px,#f8d13e 16.5px,#f1a431 18.5px,#e9922b 19.5px,#e2601c 23.5px,#e24212 25.5px,#e33a0f 26.5px,#e3340e 30.5px,#e33a0f 33.5px,#e24011 34.5px,#e68427 39.5px,#e88f2a 40.5px,#ef9f30 41.5px,#f7cb3d 43.5px,#f9e943 44.5px,#effb44 45.5px,#bffe3d 47.5px,#aafd3e 48.5px,#99fb53 49.5px,#84eee2 52.5px,#73d6f2 53.5px,#62b0f2 54.5px,#2c64f1 56.5px,#1644ef 57.5px,#0321e9 59.5px)"></i><i style="height:1px;background:linear-gradient(90deg,#011ee8 0.5px,#133fee 2.5px,#2458f1 3.5px,#4382f2 4.5px,#6fccf2 6.5px,#80eae7 7.5px,#89f4c1 8.5px,#8ef78c 9.5px,#97fb5d 10.5px,#a5fd3e 11.5px,#d1fe3d 13.5px,#eafb42 14.5px,#faf044 15.5px,#f8d23e 16.5px,#f1a431 18.5px,#e78628 20.5px,#e24212 25.5px,#e33a0f 26.5px,#e3340e 30.5px,#e23f11 34.5px,#e68327 39.5px,#e88f2a 40.5px,#f4b636 42.5px,#f7cc3d 43.5px,#f9ea43 44.5px,#eefb43 45.5px,#bffe3d 47.5px,#a9fd3e 48.5px,#99fb54 49.5px,#8ff782 50.5px,#8af4b6 51.5px,#83ede3 52.5px,#72d4f2 53.5px,#61adf2 54.5px,#2a60f1 56.5px,#1542ef 57.5px,#0321e9 59.5px)"></i><i style="height:1px;background:linear-gradient(90deg,#011de8 0.5px,#123dee 2.5px,#2255f0 3.5px,#5aa3f2 5.5px,#6ecaf2 6.5px,#7fe9e9 7.5px,#89f4c3 8.5px,#8ef78d 9.5px,#97fa5d 10.5px,#a5fd3f 11.5px,#d1fe3d 13.5px,#e9fb42 14.5px,#faf044 15.5px,#f8d23e 16.5px,#e9922b 19.5px,#e15016 24.5px,#e24112 25.5px,#e3380f 27.5px,#e3360e 31.5px,#e23f11 34.5px,#e68327 39.5px,#e88f2a 40.5px,#f4b637 42.5px,#f7cc3d 43.5px,#f9ea43 44.5px,#eefb43 45.5px,#bffe3d 47.5px,#a9fd3e 48.5px,#99fb54 49.5px,#8ff783 50.5px,#8af4b8 51.5px,#82ece5 52.5px,#71d2f2 53.5px,#5fabf2 54.5px,#285df1 56.5px,#1441ef 57.5px,#0220e9 59.5px)"></i><i style="height:1px;background:linear-gradient(90deg,#001de8 0.5px,#113cee 2.5px,#1f52f0 3.5px,#58a1f2 5.5px,#6dc7f2 6.5px,#7ee8ea 7.5px,#89f3c5 8.5px,#8df78e 9.5px,#97fa5e 10.5px,#a5fd3f 11.5px,#d1fe3d 13.5px,#e9fb42 14.5px,#faf044 15.5px,#f8d33f 16.5px,#e9922b 19.5px,#e24112 25.5px,#e3380f 27.5px,#e3350e 31.5px,#e23f11 34.5px,#e68327 39.5px,#e88f2a 40.5px,#f4b737 42.5px,#f7cd3d 43.5px,#f9ea43 44.5px,#eefb43 45.5px,#bffe3d 47.5px,#a9fd3e 48.5px,#98fb55 49.5px,#8ff784 50.5px,#8af4b9 51.5px,#81ebe6 52.5px,#70cff2 53.5px,#5da8f2 54.5px,#255af1 56.5px,#133fee 57.5px,#021fe9 59.5px)"></i><i style="height:1px;background:linear-gradient(90deg,#001ce8 0.5px,#113aee 2.5px,#1d4ff0 3.5px,#569ef2 5.5px,#6cc5f2 6.5px,#7de7eb 7.5px,#89f3c7 8.5px,#8df790 9.5px,#96fa5f 10.5px,#a4fd3f 11.5px,#d0fe3d 13.5px,#e9fb42 14.5px,#faf144 15.5px,#f8d33f 16.5px,#ea922b 19.5px,#e24111 25.5px,#e3370f 27.5px,#e3350e 31.5px,#e23e11 34.5px,#e88f2a 40.5px,#f4b737 42.5px,#f8cd3d 43.5px,#f9eb43 44.5px,#eefb43 45.5px,#befe3d 47.5px,#a9fd3e 48.5px,#98fb55 49.5px,#8ff785 50.5px,#8af4bb 51.5px,#80eae7 52.5px,#6fcdf2 53.5px,#5ba5f2 54.5px,#2357f0 56.5px,#123eee 57.5px,#011ee8 59.5px)"></i><i style="height:1px;background:linear-gradient(90deg,#001ce7 0.5px,#1039ed 2.5px,#1b4df0 3.5px,#549bf2 5.5px,#7ce6ec 7.5px,#89f3c9 8.5px,#8df691 9.5px,#96fa60 10.5px,#a4fd3f 11.5px,#d0fe3d 13.5px,#e9fc42 14.5px,#faf144 15.5px,#f5bc38 17.5px,#ea932b 19.5px,#e14f16 24.5px,#e24011 25.5px,#e3370e 27.5px,#e3350e 31.5px,#e23e11 34.5px,#e88f2a 40.5px,#f8ce3d 43.5px,#f9eb43 44.5px,#eefb43 45.5px,#befe3d 47.5px,#a8fd3e 48.5px,#98fb56 49.5px,#8ef786 50.5px,#8af4bd 51.5px,#7fe9e8 52.5px,#6ecbf2 53.5px,#5aa3f2 54.5px,#2154f0 56.5px,#123cee 57.5px,#011de8 59.5px)"></i><i style="height:1px;background:linear-gradient(90deg,#001be7 0.5px,#0f37ed 2.5px,#194af0 3.5px,#346ef1 4.5px,#5299f2 5.5px,#6ac0f2 6.5px,#7be5ee 7.5px,#89f3cb 8.5px,#8df692 9.5px,#96fa60 10.5px,#a4fd3f 11.5px,#d0fe3d 13.5px,#e9fc42 14.5px,#faf144 15.5px,#f5bd38 17.5px,#ea932b 19.5px,#e14e15 24.5px,#e24011 25.5px,#e3370e 27.5px,#e3340e 31.5px,#e23e10 34.5px,#e88f2a 40.5px,#f8cf3e 43.5px,#f9eb43 44.5px,#edfb43 45.5px,#befe3d 47.5px,#a8fd3e 48.5px,#98fb57 49.5px,#8ef787 50.5px,#8af4bf 51.5px,#7fe8e9 52.5px,#6dc8f2 53.5px,#58a0f2 54.5px,#3976f1 55.5px,#1f51f0 56.5px,#113bee 57.5px,#001de8 59.5px)"></i><i style="height:1px;background:linear-gradient(90deg,#001be6 0.5px,#0e36ed 2.5px,#1847f0 3.5px,#316af1 4.5px,#5196f2 5.5px,#69bdf2 6.5px,#7ae4ef 7.5px,#88f3cd 8.5px,#8df693 9.5px,#96fa61 10.5px,#a4fd3f 11.5px,#d0fe3d 13.5px,#e8fc42 14.5px,#faf144 15.5px,#f5bd39 17.5px,#ea932b 19.5px,#e14e15 24.5px,#e23f11 25.5px,#e3360e 27.5px,#e3340e 31.5px,#e23d10 34.5px,#e88f2a 40.5px,#f8cf3e 43.5px,#f9ec43 44.5px,#edfb43 45.5px,#befe3d 47.5px,#a8fd3e 48.5px,#98fb57 49.5px,#8ef788 50.5px,#89f4c0 51.5px,#7ee7ea 52.5px,#6cc6f2 53.5px,#569ef2 54.5px,#3671f1 55.5px,#1c4ef0 56.5px,#072aea 58.5px,#001ce8 59.5px)"></i><i style="height:1px;background:linear-gradient(90deg,#001be6 0.5px,#0d34ec 2.5px,#1645ef 3.5px,#2e66f1 4.5px,#4f94f2 5.5px,#68bbf2 6.5px,#79e3f0 7.5px,#88f3cf 8.5px,#8df695 9.5px,#96fa62 10.5px,#a3fd3f 11.5px,#d0fe3d 13.5px,#e8fc42 14.5px,#faf244 15.5px,#f5be39 17.5px,#ea932b 19.5px,#e14d15 24.5px,#e23f11 25.5px,#e3360e 27.5px,#e3340d 31.5px,#e23d10 34.5px,#e88f2a 40.5px,#f8d03e 43.5px,#f9ec43 44.5px,#edfb43 45.5px,#befe3d 47.5px,#a8fd3e 48.5px,#98fb58 49.5px,#8ef789 50.5px,#89f4c2 51.5px,#7de6ec 52.5px,#6bc3f2 53.5px,#549bf2 54.5px,#336df1 55.5px,#1a4bf0 56.5px,#0729ea 58.5px,#001ce7 59.5px)"></i><i style="height:1px;background:linear-gradient(90deg,#001be5 0.5px,#0d33ec 2.5px,#1543ef 3.5px,#2b62f1 4.5px,#4d91f2 5.5px,#67b9f2 6.5px,#78e1f1 7.5px,#88f3d1 8.5px,#8df696 9.5px,#96fa62 10.5px,#a3fd3f 11.5px,#cffe3d 13.5px,#e8fc42 14.5px,#faf244 15.5px,#f5be39 17.5px,#ea932b 19.5px,#e14d15 24.5px,#e23f11 25.5px,#e3360e 27.5px,#e3330d 31.5px,#e23d10 34.5px,#e8902a 40.5px,#f4ba38 42.5px,#f8d03e 43.5px,#f9ec43 44.5px,#edfb43 45.5px,#bdfe3d 47.5px,#a8fd3e 48.5px,#98fb59 49.5px,#8ef78a 50.5px,#89f3c4 51.5px,#7ce5ed 52.5px,#6ac1f2 53.5px,#5299f2 54.5px,#3069f1 55.5px,#1848f0 56.5px,#0627ea 58.5px,#001be7 59.5px)"></i><i style="height:1px;background:linear-gradient(90deg,#001be5 0.5px,#0c31ec 2.5px,#1441ef 3.5px,#285ef1 4.5px,#4b8ff2 5.5px,#66b6f2 6.5px,#77e0f2 7.5px,#88f3d4 8.5px,#8df697 9.5px,#95fa63 10.5px,#a3fd3f 11.5px,#cffe3d 13.5px,#e8fc42 14.5px,#faf245 15.5px,#f5bf39 17.5px,#ea932b 19.5px,#e14c15 24.5px,#e23e11 25.5px,#e3330d 28.5px,#e3330d 31.5px,#e23c10 34.5px,#e68227 39.5px,#e8902a 40.5px,#f4bb38 42.5px,#f9ed43 44.5px,#edfb43 45.5px,#bdfe3d 47.5px,#a7fd3e 48.5px,#97fb59 49.5px,#8ef78b 50.5px,#89f3c6 51.5px,#7be5ee 52.5px,#69bff2 53.5px,#5196f2 54.5px,#2d65f1 55.5px,#1746f0 56.5px,#0626ea 58.5px,#001be6 59.5px)"></i><i style="height:1px;background:linear-gradient(90deg,#001ae4 0.5px,#0b30ec 2.5px,#133fee 3.5px,#255af1 4.5px,#498cf2 5.5px,#65b4f2 6.5px,#77def2 7.5px,#88f2d6 8.5px,#8df699 9.5px,#95fa64 10.5px,#a3fd3f 11.5px,#cffe3d 13.5px,#e8fc42 14.5px,#faf245 15.5px,#f5c039 17.5px,#ea942b 19.5px,#e14c15 24.5px,#e23e11 25.5px,#e3330d 28.5px,#e3330d 31.5px,#e33c10 34.5px,#e68227 39.5px,#e8902a 40.5px,#f5bb38 42.5px,#f9ed43 44.5px,#ecfb43 45.5px,#bdfe3d 47.5px,#a7fd3e 48.5px,#97fb5a 49.5px,#8ef78c 50.5px,#89f3c7 51.5px,#7ae4ef 52.5px,#68bcf2 53.5px,#4f94f2 54.5px,#2a60f1 55.5px,#1643ef 56.5px,#0525ea 58.5px,#001be6 59.5px)"></i><i style="height:1px;background:linear-gradient(90deg,#001ae4 0.5px,#0a2eeb 2.5px,#123dee 3.5px,#2256f0 4.5px,#4889f2 5.5px,#64b1f2 6.5px,#76dcf2 7.5px,#88f2d8 8.5px,#8cf69a 9.5px,#95fa65 10.5px,#a3fd3f 11.5px,#cffe3d 13.5px,#e7fc42 14.5px,#faf345 15.5px,#f1a933 18.5px,#e68427 20.5px,#e23d10 25.5px,#e3310d 29.5px,#e33c10 34.5px,#e68127 39.5px,#e8902a 40.5px,#f5bc38 42.5px,#f9ed44 44.5px,#ecfb43 45.5px,#bdfe3d 47.5px,#a7fd3e 48.5px,#97fb5b 49.5px,#8df78d 50.5px,#89f3c9 51.5px,#79e3f0 52.5px,#67baf2 53.5px,#4d91f2 54.5px,#275cf1 55.5px,#1441ef 56.5px,#0424e9 58.5px,#001be5 59.5px)"></i><i style="height:1px;background:linear-gradient(90deg,#001ae3 0.5px,#0220e9 1.5px,#113bee 3.5px,#1f52f0 4.5px,#4687f2 5.5px,#62aff2 6.5px,#75daf2 7.5px,#87f2da 8.5px,#8cf69b 9.5px,#95fa65 10.5px,#a2fd3f 11.5px,#cffe3d 13.5px,#e7fc42 14.5px,#faf345 15.5px,#f2a933 18.5px,#e68427 20.5px,#e23d10 25.5px,#e3300c 29.5px,#e33b10 34.5px,#e68127 39.5px,#e8902a 40.5px,#f5bc38 42.5px,#f9ed44 44.5px,#ecfb43 45.5px,#bdfe3d 47.5px,#a7fd3e 48.5px,#97fb5b 49.5px,#8df78f 50.5px,#89f3cb 51.5px,#78e2f1 52.5px,#66b8f2 53.5px,#4b8ff2 54.5px,#2458f1 55.5px,#133fee 56.5px,#0423e9 58.5px,#001ae5 59.5px)"></i><i style="height:1px;background:linear-gradient(90deg,#001ae3 0.5px,#021fe9 1.5px,#1039ed 3.5px,#1c4ef0 4.5px,#4383f2 5.5px,#60adf2 6.5px,#74d8f2 7.5px,#87f2dc 8.5px,#8cf69c 9.5px,#95fa66 10.5px,#a2fd3f 11.5px,#cefe3c 13.5px,#e7fc42 14.5px,#faf345 15.5px,#f2aa33 18.5px,#e68427 20.5px,#e23d10 25.5px,#e3300c 29.5px,#e33b10 34.5px,#e68127 39.5px,#e8902a 40.5px,#f5bd38 42.5px,#f9ee44 44.5px,#ecfb43 45.5px,#bcfe3d 47.5px,#a7fd3e 48.5px,#97fb5c 49.5px,#8df690 50.5px,#88f3cd 51.5px,#78e0f2 52.5px,#65b5f2 53.5px,#4a8cf2 54.5px,#2154f0 55.5px,#123dee 56.5px,#0322e9 58.5px,#001ae4 59.5px)"></i><i style="height:1px;background:linear-gradient(90deg,#0019e2 0.5px,#011ee8 1.5px,#0f37ed 3.5px,#194af0 4.5px,#407ff2 5.5px,#5fabf2 6.5px,#73d6f2 7.5px,#87f2de 8.5px,#8cf69e 9.5px,#95fa67 10.5px,#a2fd3f 11.5px,#cefe3c 13.5px,#e7fc42 14.5px,#faf345 15.5px,#f2aa33 18.5px,#e68427 20.5px,#e23c10 25.5px,#e3300c 29.5px,#e33a10 34.5px,#e68127 39.5px,#e8902a 40.5px,#f5bd39 42.5px,#f9ee44 44.5px,#ecfb43 45.5px,#bcfe3d 47.5px,#a6fd3e 48.5px,#97fb5d 49.5px,#8df691 50.5px,#88f3ce 51.5px,#77def2 52.5px,#64b3f2 53.5px,#488af2 54.5px,#1d50f0 55.5px,#113bee 56.5px,#0221e9 58.5px,#001ae3 59.5px)"></i><i style="height:1px;background:linear-gradient(90deg,#0019e1 0.5px,#011de8 1.5px,#0e35ed 3.5px,#1747f0 4.5px,#3d7bf2 5.5px,#5da8f2 6.5px,#72d4f2 7.5px,#87f1df 8.5px,#8cf69f 9.5px,#95fa67 10.5px,#a2fd3f 11.5px,#cefe3c 13.5px,#faf445 15.5px,#f2ab33 18.5px,#e68427 20.5px,#e33c10 25.5px,#e32f0c 30.5px,#e33a0f 34.5px,#e68127 39.5px,#e8902a 40.5px,#f5be39 42.5px,#f9ee44 44.5px,#ebfb43 45.5px,#bcfe3d 47.5px,#a6fd3e 48.5px,#97fa5d 49.5px,#8df692 50.5px,#88f3d0 51.5px,#76ddf2 52.5px,#63b1f2 53.5px,#4687f2 54.5px,#1a4bf0 55.5px,#082beb 57.5px,#001ae3 59.5px)"></i><i style="height:1px;background:linear-gradient(90deg,#0019e1 0.5px,#001ce8 1.5px,#0d33ec 3.5px,#1644ef 4.5px,#5ca6f2 6.5px,#72d2f2 7.5px,#86f1df 8.5px,#8cf6a0 9.5px,#94fa68 10.5px,#a1fd3f 11.5px,#cefe3c 13.5px,#faf445 15.5px,#f2ab33 18.5px,#e68327 20.5px,#e33b10 25.5px,#e42e0c 30.5px,#e33a0f 34.5px,#e68127 39.5px,#e9902a 40.5px,#f5be39 42.5px,#f9ef44 44.5px,#ebfb43 45.5px,#bcfe3d 47.5px,#a6fd3e 48.5px,#97fa5e 49.5px,#8df693 50.5px,#88f3d2 51.5px,#75dbf2 52.5px,#62aef2 53.5px,#4484f2 54.5px,#1847f0 55.5px,#0729ea 57.5px,#011ee8 58.5px,#0019e2 59.5px)"></i><i style="height:1px;background:linear-gradient(90deg,#0019e0 0.5px,#001ce7 1.5px,#0c31ec 3.5px,#1441ef 4.5px,#5aa4f2 6.5px,#71d0f2 7.5px,#85f0e0 8.5px,#8cf5a1 9.5px,#94fa69 10.5px,#a1fd3f 11.5px,#cdfe3c 13.5px,#faf445 15.5px,#f2ac33 18.5px,#e68327 20.5px,#e33b10 25.5px,#e42e0c 30.5px,#e3390f 34.5px,#e68026 39.5px,#e9902a 40.5px,#f5bf39 42.5px,#f9ef44 44.5px,#ebfb43 45.5px,#bcfe3d 47.5px,#a6fd3e 48.5px,#96fa5f 49.5px,#8df695 50.5px,#88f3d4 51.5px,#75d9f2 52.5px,#60acf2 53.5px,#4180f2 54.5px,#1644ef 55.5px,#011de8 58.5px,#0019e2 59.5px)"></i><i style="height:1px;background:linear-gradient(90deg,#0018e0 0.5px,#0424e9 2.5px,#133eee 4.5px,#59a2f2 6.5px,#70cef2 7.5px,#85f0e1 8.5px,#94f96a 10.5px,#a1fd3f 11.5px,#cdfe3c 13.5px,#faf445 15.5px,#f2ac34 18.5px,#e68327 20.5px,#e33b10 25.5px,#e42e0c 30.5px,#e3390f 34.5px,#e68026 39.5px,#e9902a 40.5px,#f5bf39 42.5px,#f9ef44 44.5px,#ebfb43 45.5px,#bbfe3d 47.5px,#a5fd3e 48.5px,#96fa5f 49.5px,#8df696 50.5px,#88f2d5 51.5px,#74d7f2 52.5px,#5eaaf2 53.5px,#3e7cf2 54.5px,#1441ef 55.5px,#001ce8 58.5px,#0019e1 59.5px)"></i><i style="height:1px;background:linear-gradient(90deg,#0018df 0.5px,#0423e9 2.5px,#113bee 4.5px,#579ff2 6.5px,#6fccf2 7.5px,#84efe1 8.5px,#94f96a 10.5px,#a1fd3f 11.5px,#cdfe3c 13.5px,#faf545 15.5px,#f2ad34 18.5px,#e68327 20.5px,#e33a0f 25.5px,#e42d0c 30.5px,#e3390f 34.5px,#e47022 38.5px,#e9902a 40.5px,#f5c039 42.5px,#faf044 44.5px,#ebfb43 45.5px,#bbfe3d 47.5px,#a5fd3e 48.5px,#96fa60 49.5px,#8df697 50.5px,#88f2d7 51.5px,#73d5f2 52.5px,#5da8f2 53.5px,#3c79f2 54.5px,#133eee 55.5px,#001ce7 58.5px,#0019e1 59.5px)"></i><i style="height:1px;background:linear-gradient(90deg,#0018df 0.5px,#0321e9 2.5px,#1039ed 4.5px,#559df2 6.5px,#6ecaf2 7.5px,#84eee2 8.5px,#94f96b 10.5px,#a1fd3f 11.5px,#cdfe3c 13.5px,#faf545 15.5px,#f2ad34 18.5px,#e68327 20.5px,#e24713 24.5px,#e33a0f 25.5px,#e42d0b 30.5px,#e3380f 34.5px,#e47022 38.5px,#e9912a 40.5px,#f5c039 42.5px,#faf044 44.5px,#eafb43 45.5px,#bbfe3d 47.5px,#a5fd3e 48.5px,#96fa61 49.5px,#8df698 50.5px,#87f2d9 51.5px,#72d3f2 52.5px,#5ba6f2 53.5px,#3975f1 54.5px,#113cee 55.5px,#0423e9 57.5px,#0018e0 59.5px)"></i><i style="height:1px;background:linear-gradient(90deg,#0018de 0.5px,#0220e9 2.5px,#0e36ed 4.5px,#2d65f1 5.5px,#549bf2 6.5px,#6dc8f2 7.5px,#83eee3 8.5px,#94f96c 10.5px,#a0fd3f 11.5px,#cdfe3c 13.5px,#faf545 15.5px,#f2ad34 18.5px,#e68327 20.5px,#e24713 24.5px,#e3390f 25.5px,#e42d0b 30.5px,#e3380f 34.5px,#e46f22 38.5px,#e9912a 40.5px,#f5c13a 42.5px,#faf044 44.5px,#eafb43 45.5px,#bbfe3d 47.5px,#a5fd3f 48.5px,#96fa61 49.5px,#8df699 50.5px,#87f2db 51.5px,#71d2f2 52.5px,#5aa4f2 53.5px,#3671f1 54.5px,#1039ed 55.5px,#0321e9 57.5px,#0018df 59.5px)"></i><i style="height:1px;background:linear-gradient(90deg,#0017de 0.5px,#011ee8 2.5px,#0d33ec 4.5px,#2a61f1 5.5px,#5299f2 6.5px,#6cc6f2 7.5px,#83ede4 8.5px,#94f96d 10.5px,#a0fd3f 11.5px,#ccfe3c 13.5px,#faf645 15.5px,#f2ae34 18.5px,#e68327 20.5px,#e15418 23.5px,#e3390f 25.5px,#e42c0b 30.5px,#e3380f 34.5px,#e46f21 38.5px,#e9912a 40.5px,#f6c13a 42.5px,#faf144 44.5px,#eafb43 45.5px,#bbfe3d 47.5px,#a5fd3f 48.5px,#96fa62 49.5px,#8cf69a 50.5px,#87f2dc 51.5px,#71d0f2 52.5px,#58a1f2 53.5px,#0e36ed 55.5px,#0220e9 57.5px,#0018df 59.5px)"></i><i style="height:1px;background:linear-gradient(90deg,#0017dd 0.5px,#001de8 2.5px,#0b30ec 4.5px,#275df1 5.5px,#5196f2 6.5px,#6cc4f2 7.5px,#82ede4 8.5px,#93f96d 10.5px,#a0fd3f 11.5px,#ccfe3c 13.5px,#faf645 15.5px,#f2ae34 18.5px,#e68227 20.5px,#e15317 23.5px,#e3390f 25.5px,#e42c0b 30.5px,#e3370f 34.5px,#e46f21 38.5px,#e9912a 40.5px,#f6c23a 42.5px,#faf144 44.5px,#eafb42 45.5px,#bafe3d 47.5px,#a4fd3f 48.5px,#96fa63 49.5px,#8cf69c 50.5px,#87f2de 51.5px,#70cef2 52.5px,#579ff2 53.5px,#0c33ec 55.5px,#011ee8 57.5px,#0018de 59.5px)"></i><i style="height:1px;background:linear-gradient(90deg,#0017dd 0.5px,#001ce7 2.5px,#092deb 4.5px,#2559f1 5.5px,#4f94f2 6.5px,#6bc2f2 7.5px,#82ece5 8.5px,#93f96e 10.5px,#a0fd3f 11.5px,#ccfe3c 13.5px,#faf645 15.5px,#f2af34 18.5px,#e68227 20.5px,#e15317 23.5px,#e3380f 25.5px,#e42b0b 30.5px,#e3370f 34.5px,#e46e21 38.5px,#e9912a 40.5px,#f6c23a 42.5px,#faf144 44.5px,#eafb42 45.5px,#bafe3d 47.5px,#a4fd3f 48.5px,#95fa63 49.5px,#8cf69d 50.5px,#87f1df 51.5px,#6fccf2 52.5px,#559df2 53.5px,#0b30ec 55.5px,#001de8 57.5px,#0017de 59.5px)"></i><i style="height:1px;background:linear-gradient(90deg,#0017dc 0.5px,#0321e9 3.5px,#082beb 4.5px,#2255f0 5.5px,#4e92f2 6.5px,#6ac0f2 7.5px,#81ebe6 8.5px,#93f96f 10.5px,#a0fd3f 11.5px,#ccfe3c 13.5px,#faf645 15.5px,#f3af34 18.5px,#e68227 20.5px,#e15217 23.5px,#e3380f 25.5px,#e42b0b 30.5px,#e3370e 34.5px,#e36e21 38.5px,#e9912a 40.5px,#f6c33a 42.5px,#faf144 44.5px,#e9fb42 45.5px,#bafe3d 47.5px,#a4fd3f 48.5px,#95fa64 49.5px,#8cf69e 50.5px,#86f1df 51.5px,#6ecaf2 52.5px,#549bf2 53.5px,#2b63f1 54.5px,#092deb 55.5px,#001ce7 57.5px,#0017dd 59.5px)"></i><i style="height:1px;background:linear-gradient(90deg,#0016dc 0.5px,#021fe9 3.5px,#0628ea 4.5px,#1f52f0 5.5px,#4c90f2 6.5px,#69bef2 7.5px,#81ebe6 8.5px,#93f96f 10.5px,#9ffd3f 11.5px,#cbfe3c 13.5px,#faf745 15.5px,#f3b035 18.5px,#e68227 20.5px,#e15217 23.5px,#e3370f 25.5px,#e42b0b 30.5px,#e3360e 34.5px,#e25d1b 37.5px,#e9912b 40.5px,#f6c33a 42.5px,#faf244 44.5px,#e9fb42 45.5px,#bafe3d 47.5px,#a4fd3f 48.5px,#95fa65 49.5px,#8cf69f 50.5px,#86f0e0 51.5px,#6ec9f2 52.5px,#5299f2 53.5px,#295ff1 54.5px,#082aeb 55.5px,#001be6 57.5px,#0017dc 59.5px)"></i><i style="height:1px;background:linear-gradient(90deg,#0016db 0.5px,#011de8 3.5px,#0525ea 4.5px,#1c4ef0 5.5px,#4b8ef2 6.5px,#68bcf2 7.5px,#80eae7 8.5px,#8bf5ae 9.5px,#93f970 10.5px,#9ffd3f 11.5px,#cbfe3c 13.5px,#faf745 15.5px,#f3b035 18.5px,#e68227 20.5px,#e15117 23.5px,#e3370e 25.5px,#e42a0b 30.5px,#e3360e 34.5px,#e25c1b 37.5px,#e9912b 40.5px,#f6c43b 42.5px,#faf244 44.5px,#e9fb42 45.5px,#bafe3d 47.5px,#a3fd3f 48.5px,#95fa65 49.5px,#85f0e0 51.5px,#6dc7f2 52.5px,#5197f2 53.5px,#265bf1 54.5px,#0627ea 55.5px,#001be5 57.5px,#0017dc 59.5px)"></i><i style="height:1px;background:linear-gradient(90deg,#0016db 0.5px,#001ce7 3.5px,#0322e9 4.5px,#1a4af0 5.5px,#498bf2 6.5px,#67baf2 7.5px,#80eae8 8.5px,#8bf5af 9.5px,#93f971 10.5px,#9ffd3f 11.5px,#cbfe3c 13.5px,#faf745 15.5px,#f3b135 18.5px,#e68227 20.5px,#e25e1c 22.5px,#e3360e 25.5px,#e42a0b 30.5px,#e3360e 34.5px,#e25b1b 37.5px,#e9912b 40.5px,#f6c53b 42.5px,#faf245 44.5px,#e9fb42 45.5px,#b9fe3d 47.5px,#a3fd3f 48.5px,#95fa66 49.5px,#85efe1 51.5px,#6cc5f2 52.5px,#4f94f2 53.5px,#2358f0 54.5px,#0424e9 55.5px,#001ae4 57.5px,#0016db 59.5px)"></i><i style="height:1px;background:linear-gradient(90deg,#0016da 0.5px,#021fe9 4.5px,#1747f0 5.5px,#4789f2 6.5px,#66b8f2 7.5px,#7fe9e9 8.5px,#8bf5b1 9.5px,#92f972 10.5px,#9ffd3f 11.5px,#cbfe3c 13.5px,#faf745 15.5px,#f3b135 18.5px,#e68227 20.5px,#e25e1b 22.5px,#e3360e 25.5px,#e42a0b 30.5px,#e3350e 34.5px,#e25b1a 37.5px,#e9912b 40.5px,#f6c53b 42.5px,#faf345 44.5px,#e9fc42 45.5px,#b9fe3d 47.5px,#a3fd3f 48.5px,#95fa67 49.5px,#84efe2 51.5px,#6bc3f2 52.5px,#4e92f2 53.5px,#2154f0 54.5px,#0321e9 55.5px,#0016db 59.5px)"></i><i style="height:1px;background:linear-gradient(90deg,#0016d9 0.5px,#001ce8 4.5px,#1644ef 5.5px,#4687f2 6.5px,#66b6f2 7.5px,#7fe8e9 8.5px,#8bf5b2 9.5px,#92f972 10.5px,#9efd3f 11.5px,#cbfe3c 13.5px,#faf846 15.5px,#f3b235 18.5px,#e68127 20.5px,#e25d1b 22.5px,#e3360e 25.5px,#e4290a 30.5px,#e3350e 34.5px,#e25a1a 37.5px,#e9912b 40.5px,#f6c63b 42.5px,#faf345 44.5px,#e9fc42 45.5px,#b9fe3d 47.5px,#a3fd3f 48.5px,#95fa67 49.5px,#84eee2 51.5px,#6ac1f2 52.5px,#4c90f2 53.5px,#1e50f0 54.5px,#011ee8 55.5px,#0016da 59.5px)"></i><i style="height:1px;background:linear-gradient(90deg,#0015d9 0.5px,#001ce7 4.5px,#1441ef 5.5px,#4281f2 6.5px,#63b1f2 7.5px,#7ce6ec 8.5px,#8af4b5 9.5px,#92f974 10.5px,#9efd3f 11.5px,#cafe3c 13.5px,#faf846 15.5px,#f3b235 18.5px,#e68127 20.5px,#e25d1b 22.5px,#e3350e 25.5px,#e4290a 30.5px,#e3350e 34.5px,#e25a1a 37.5px,#e9922b 40.5px,#f6c63b 42.5px,#faf445 44.5px,#e8fc42 45.5px,#cffe3d 46.5px,#a2fd3f 48.5px,#94fa69 49.5px,#82ece5 51.5px,#68bcf2 52.5px,#4a8cf2 53.5px,#1b4cf0 54.5px,#001ce8 55.5px,#0016da 59.5px)"></i><i style="height:1px;background:linear-gradient(90deg,#0015d8 0.5px,#001be6 4.5px,#133fee 5.5px,#3d7af2 6.5px,#5eaaf2 7.5px,#79e2f1 8.5px,#8af4b9 9.5px,#92f876 10.5px,#9dfd40 11.5px,#c9fe3c 13.5px,#faf946 15.5px,#f3b235 18.5px,#e68227 20.5px,#e25d1b 22.5px,#e3360e 25.5px,#e4290a 30.5px,#e3350e 34.5px,#e25a1a 37.5px,#e9922b 40.5px,#f6c63b 42.5px,#faf445 44.5px,#e7fc42 45.5px,#cefe3c 46.5px,#a1fd3f 48.5px,#94f96b 49.5px,#8bf5a9 50.5px,#7ee8e9 51.5px,#65b3f2 52.5px,#4687f2 53.5px,#1848f0 54.5px,#001ce7 55.5px,#0015d9 59.5px)"></i><i style="height:1px;background:linear-gradient(90deg,#0015d8 0.5px,#001be6 4.5px,#113cee 5.5px,#3773f1 6.5px,#59a2f2 7.5px,#75dbf2 8.5px,#8af4bd 9.5px,#91f878 10.5px,#9cfd42 11.5px,#c8fe3c 13.5px,#fafa46 15.5px,#f3b335 18.5px,#e68227 20.5px,#e25d1b 22.5px,#e3360e 25.5px,#e4290a 30.5px,#e3350e 34.5px,#e25a1a 37.5px,#ea922b 40.5px,#f6c73b 42.5px,#faf545 44.5px,#cdfe3c 46.5px,#a0fd3f 48.5px,#93f96d 49.5px,#8bf5ad 50.5px,#7be4ee 51.5px,#5fabf2 52.5px,#407ff2 53.5px,#1644ef 54.5px,#001be7 55.5px,#0015d8 59.5px)"></i><i style="height:1px;background:linear-gradient(90deg,#0014d7 0.5px,#001be5 4.5px,#1039ed 5.5px,#549bf2 7.5px,#72d3f2 8.5px,#89f4c1 9.5px,#91f87a 10.5px,#9cfd44 11.5px,#c8fe3c 13.5px,#f9fa46 15.5px,#f3b336 18.5px,#e68227 20.5px,#e25d1b 22.5px,#e3360e 25.5px,#e4290a 30.5px,#e3350e 34.5px,#e25a1a 37.5px,#ea932b 40.5px,#f7c73b 42.5px,#faf645 44.5px,#cdfe3c 46.5px,#9ffd3f 48.5px,#93f96f 49.5px,#8bf5b0 50.5px,#78e0f2 51.5px,#5aa3f2 52.5px,#3a76f1 53.5px,#1441ef 54.5px,#001be6 55.5px,#0015d8 59.5px)"></i><i style="height:1px;background:linear-gradient(90deg,#0014d7 0.5px,#001ae5 4.5px,#0e36ed 5.5px,#4f93f2 7.5px,#6fccf2 8.5px,#89f3c5 9.5px,#90f87c 10.5px,#9cfc46 11.5px,#b1fd3e 12.5px,#dffc40 14.5px,#f8fa46 15.5px,#f3b336 18.5px,#e68227 20.5px,#e25d1b 22.5px,#e3360e 25.5px,#e4290a 30.5px,#e3350e 34.5px,#e25b1a 37.5px,#ea932b 40.5px,#f7c83c 42.5px,#faf745 44.5px,#ccfe3c 46.5px,#9efd3f 48.5px,#93f971 49.5px,#8af4b3 50.5px,#75d9f2 51.5px,#549bf2 52.5px,#123eee 54.5px,#001be5 55.5px,#0015d7 59.5px)"></i><i style="height:1px;background:linear-gradient(90deg,#0014d6 0.5px,#001ae4 4.5px,#0d34ec 5.5px,#275cf1 6.5px,#498cf2 7.5px,#6cc4f2 8.5px,#89f3c9 9.5px,#90f87f 10.5px,#9bfc48 11.5px,#b0fd3e 12.5px,#dffc40 14.5px,#f8fa45 15.5px,#f3b436 18.5px,#e68227 20.5px,#e25d1b 22.5px,#e3360e 25.5px,#e4290a 30.5px,#e3350e 34.5px,#e25b1a 37.5px,#ea932b 40.5px,#f7c83c 42.5px,#faf846 44.5px,#cbfe3c 46.5px,#9dfd3f 48.5px,#92f973 49.5px,#8af4b7 50.5px,#72d2f2 51.5px,#4f93f2 52.5px,#113aee 54.5px,#001be5 55.5px,#0014d7 59.5px)"></i><i style="height:1px;background:linear-gradient(90deg,#0014d5 0.5px,#001ae3 4.5px,#0b31ec 5.5px,#2155f0 6.5px,#4383f2 7.5px,#68bcf2 8.5px,#88f3cd 9.5px,#8ff881 10.5px,#9bfc4a 11.5px,#affd3e 12.5px,#defc40 14.5px,#f7fa45 15.5px,#f8cd3d 17.5px,#e68327 20.5px,#e25e1b 22.5px,#e3360e 25.5px,#e4290a 30.5px,#e3350e 34.5px,#e25b1a 37.5px,#ea942b 40.5px,#f7c83c 42.5px,#faf946 44.5px,#cafe3c 46.5px,#9dfd41 48.5px,#92f875 49.5px,#8af4ba 50.5px,#6fcbf2 51.5px,#498bf2 52.5px,#285ef1 53.5px,#0f37ed 54.5px,#001ae4 55.5px,#0014d6 59.5px)"></i><i style="height:1px;background:linear-gradient(90deg,#0013d5 0.5px,#001ae3 4.5px,#0a2eeb 5.5px,#1c4df0 6.5px,#3b78f2 7.5px,#65b4f2 8.5px,#88f3d1 9.5px,#8ff783 10.5px,#9afc4c 11.5px,#aefd3e 12.5px,#ddfd40 14.5px,#f6fa45 15.5px,#f8cd3d 17.5px,#e68327 20.5px,#e25e1c 22.5px,#e3360e 25.5px,#e4290a 30.5px,#e3350e 34.5px,#e25b1a 37.5px,#ea942c 40.5px,#f7c93c 42.5px,#faf946 44.5px,#c9fe3c 46.5px,#9cfd42 48.5px,#91f877 49.5px,#8af4bd 50.5px,#6cc4f2 51.5px,#4282f2 52.5px,#2256f0 53.5px,#0d34ec 54.5px,#001ae4 55.5px,#0014d5 59.5px)"></i><i style="height:1px;background:linear-gradient(90deg,#0013d4 0.5px,#0019e2 4.5px,#082beb 5.5px,#1747f0 6.5px,#336ef1 7.5px,#61adf2 8.5px,#88f3d5 9.5px,#8ef785 10.5px,#9afc4e 11.5px,#aefd3e 12.5px,#dcfd3f 14.5px,#f5fa45 15.5px,#f8ce3d 17.5px,#e68327 20.5px,#e25e1c 22.5px,#e3360e 25.5px,#e4290a 30.5px,#e3350e 34.5px,#e25b1a 37.5px,#eb942c 40.5px,#f7c93c 42.5px,#fafa46 44.5px,#c8fe3c 46.5px,#9cfd44 48.5px,#91f879 49.5px,#89f4c1 50.5px,#68bcf2 51.5px,#3a76f1 52.5px,#1c4ef0 53.5px,#0b31ec 54.5px,#001ae3 55.5px,#0013d5 59.5px)"></i><i style="height:1px;background:linear-gradient(90deg,#0013d3 0.5px,#0019e1 4.5px,#0728ea 5.5px,#1441ef 6.5px,#2b63f1 7.5px,#5ca6f2 8.5px,#87f2d9 9.5px,#8ef787 10.5px,#9afc50 11.5px,#adfd3e 12.5px,#dbfd3f 14.5px,#f4fa45 15.5px,#f9e742 16.5px,#ed9b2e 19.5px,#e47122 21.5px,#e15116 23.5px,#e3360e 25.5px,#e4290a 30.5px,#e3350e 34.5px,#e25b1a 37.5px,#eb952c 40.5px,#f7c93c 42.5px,#f9fa46 44.5px,#c8fe3c 46.5px,#b1fd3e 47.5px,#9cfc46 48.5px,#90f87c 49.5px,#89f4c4 50.5px,#65b5f2 51.5px,#316bf1 52.5px,#1746f0 53.5px,#0019e2 55.5px,#0013d4 59.5px)"></i><i style="height:1px;background:linear-gradient(90deg,#0013d3 0.5px,#0019e1 4.5px,#0526ea 5.5px,#2458f1 7.5px,#579ff2 8.5px,#87f2dd 9.5px,#8ef78a 10.5px,#99fb52 11.5px,#acfd3e 12.5px,#dafd3f 14.5px,#f3fb45 15.5px,#f9e843 16.5px,#ee9b2e 19.5px,#e47122 21.5px,#e15116 23.5px,#e3360e 25.5px,#e4290a 30.5px,#e3350e 34.5px,#e25b1a 37.5px,#eb952c 40.5px,#f7ca3c 42.5px,#f8fa46 44.5px,#c7fe3c 46.5px,#b0fd3e 47.5px,#9bfc48 48.5px,#90f87e 49.5px,#89f3c7 50.5px,#62aff2 51.5px,#295ff1 52.5px,#1441ef 53.5px,#0019e2 55.5px,#0013d4 59.5px)"></i><i style="height:1px;background:linear-gradient(90deg,#0012d2 0.5px,#0019e0 4.5px,#0423e9 5.5px,#1c4df0 7.5px,#5298f2 8.5px,#86f1df 9.5px,#8ef78d 10.5px,#99fb54 11.5px,#abfd3e 12.5px,#d9fd3f 14.5px,#f3fb44 15.5px,#f9e843 16.5px,#ee9b2e 19.5px,#e47122 21.5px,#e15116 23.5px,#e3360e 25.5px,#e4290a 30.5px,#e3350e 34.5px,#e25b1b 37.5px,#eb952c 40.5px,#f7ca3c 42.5px,#f7fa45 44.5px,#c6fe3c 46.5px,#b0fd3e 47.5px,#9bfc4a 48.5px,#90f880 49.5px,#89f3cb 50.5px,#5da8f2 51.5px,#2053f0 52.5px,#0627ea 54.5px,#0019e1 55.5px,#0013d3 59.5px)"></i><i style="height:1px;background:linear-gradient(90deg,#0012d2 0.5px,#0018e0 4.5px,#0220e9 5.5px,#1644ef 7.5px,#4d91f2 8.5px,#85f0e0 9.5px,#8df78f 10.5px,#98fb56 11.5px,#aafd3e 12.5px,#d8fd3f 14.5px,#f2fb44 15.5px,#f9e943 16.5px,#ee9c2e 19.5px,#e47122 21.5px,#e15116 23.5px,#e3360e 25.5px,#e4290a 30.5px,#e3350e 34.5px,#e25b1b 37.5px,#eb962c 40.5px,#f7cb3c 42.5px,#f7fa45 44.5px,#c5fe3c 46.5px,#affd3e 47.5px,#9afc4b 48.5px,#8ff782 49.5px,#88f3ce 50.5px,#58a1f2 51.5px,#1848f0 52.5px,#0424e9 54.5px,#0019e0 55.5px,#0012d2 59.5px)"></i><i style="height:1px;background:linear-gradient(90deg,#0012d1 0.5px,#0018df 4.5px,#011de8 5.5px,#123cee 7.5px,#488af2 8.5px,#84efe2 9.5px,#8df692 10.5px,#98fb58 11.5px,#aafd3e 12.5px,#d8fd3f 14.5px,#f1fb44 15.5px,#f9ea43 16.5px,#ee9c2e 19.5px,#e47222 21.5px,#e15116 23.5px,#e3360e 25.5px,#e4290a 30.5px,#e3350e 34.5px,#e25c1b 37.5px,#eb962c 40.5px,#f9e542 43.5px,#f6fa45 44.5px,#c4fe3c 46.5px,#aefd3e 47.5px,#9afc4d 48.5px,#8ff784 49.5px,#88f3d1 50.5px,#549bf2 51.5px,#1340ee 52.5px,#0220e9 54.5px,#0018e0 55.5px,#0012d2 59.5px)"></i><i style="height:1px;background:linear-gradient(90deg,#0012d0 0.5px,#0018de 4.5px,#001be7 5.5px,#0d35ec 7.5px,#4281f2 8.5px,#83eee3 9.5px,#8df695 10.5px,#97fb5a 11.5px,#a9fd3e 12.5px,#d7fd3e 14.5px,#f0fb44 15.5px,#f9ea43 16.5px,#ee9c2f 19.5px,#e47222 21.5px,#e15116 23.5px,#e3360e 25.5px,#e4290a 30.5px,#e3350e 34.5px,#e25c1b 37.5px,#eb962c 40.5px,#f9e542 43.5px,#f5fa45 44.5px,#c4fe3d 46.5px,#adfd3e 47.5px,#9afc4f 48.5px,#8ef786 49.5px,#88f3d4 50.5px,#4f94f2 51.5px,#0f38ed 52.5px,#011de8 54.5px,#0016dc 56.5px,#0012d1 59.5px)"></i><i style="height:1px;background:linear-gradient(90deg,#0011d0 0.5px,#001be5 5.5px,#092deb 7.5px,#3a77f1 8.5px,#82ece5 9.5px,#8df697 10.5px,#97fb5c 11.5px,#a8fd3e 12.5px,#d6fd3e 14.5px,#effb44 15.5px,#f9eb43 16.5px,#ee9d2f 19.5px,#e47222 21.5px,#e15116 23.5px,#e3360e 25.5px,#e4290a 30.5px,#e3350e 34.5px,#e25c1b 37.5px,#ec972d 40.5px,#f9e642 43.5px,#f4fa45 44.5px,#c3fe3d 46.5px,#acfd3e 47.5px,#99fc51 48.5px,#8ef788 49.5px,#88f2d8 50.5px,#4b8ef2 51.5px,#0b2fec 52.5px,#001be6 54.5px,#0015d8 57.5px,#0012d1 59.5px)"></i><i style="height:1px;background:linear-gradient(90deg,#0011cf 0.5px,#011de8 6.5px,#0525ea 7.5px,#336cf1 8.5px,#81ebe6 9.5px,#8cf69a 10.5px,#97fa5e 11.5px,#a7fd3e 12.5px,#d5fd3e 14.5px,#eefb43 15.5px,#f9ec43 16.5px,#ef9d2f 19.5px,#e68427 20.5px,#e25f1c 22.5px,#e3370e 25.5px,#e4290a 30.5px,#e3350e 34.5px,#e25c1b 37.5px,#ec972d 40.5px,#f9e642 43.5px,#f4fb45 44.5px,#c2fe3d 46.5px,#acfd3e 47.5px,#99fb53 48.5px,#8ef78b 49.5px,#87f2db 50.5px,#4687f2 51.5px,#0627ea 52.5px,#001ae4 54.5px,#0011d0 59.5px)"></i><i style="height:1px;background:linear-gradient(90deg,#0011cf 0.5px,#011ee8 7.5px,#2b62f1 8.5px,#80eae7 9.5px,#8cf69c 10.5px,#96fa60 11.5px,#a6fd3e 12.5px,#d4fd3e 14.5px,#eefb43 15.5px,#f9ec43 16.5px,#ef9d2f 19.5px,#e68527 20.5px,#e25f1c 22.5px,#e3370e 25.5px,#e4290a 30.5px,#e3350e 34.5px,#e25c1b 37.5px,#ec982d 40.5px,#f9e742 43.5px,#f3fb44 44.5px,#c1fe3d 46.5px,#abfd3e 47.5px,#99fb54 48.5px,#8df78d 49.5px,#87f2de 50.5px,#3f7ef2 51.5px,#021fe9 52.5px,#0011cf 59.5px)"></i><i style="height:1px;background:linear-gradient(90deg,#0013d4 0.5px,#011ee8 6.5px,#0423e9 7.5px,#2e67f1 8.5px,#81ebe6 9.5px,#8cf69b 10.5px,#96fa5f 11.5px,#a7fd3e 12.5px,#d5fd3e 14.5px,#eefb43 15.5px,#f9ec43 16.5px,#ef9d2f 19.5px,#e68527 20.5px,#e25f1c 22.5px,#e3370e 25.5px,#e4290a 30.5px,#e3350e 34.5px,#e25c1b 37.5px,#ec982d 40.5px,#f9e742 43.5px,#f3fb45 44.5px,#c2fe3d 46.5px,#abfd3e 47.5px,#99fb54 48.5px,#8ef78c 49.5px,#87f2dc 50.5px,#4282f2 51.5px,#0424e9 52.5px,#0018e0 56.5px,#0013d5 59.5px)"></i><i style="height:1px;background:linear-gradient(90deg,#0018df 0.5px,#0220e9 3.5px,#0e35ed 7.5px,#3c7af2 8.5px,#83ede3 9.5px,#8df696 10.5px,#97fb5c 11.5px,#a8fd3e 12.5px,#d7fd3e 14.5px,#f0fb44 15.5px,#f9ea43 16.5px,#ef9d2f 19.5px,#e47222 21.5px,#e15117 23.5px,#e3370e 25.5px,#e4290a 30.5px,#e3350e 34.5px,#e25c1b 37.5px,#ec972d 40.5px,#f9e542 43.5px,#f5fa45 44.5px,#c4fe3d 46.5px,#adfd3e 47.5px,#99fb51 48.5px,#8ef788 49.5px,#88f3d5 50.5px,#4c8ff2 51.5px,#0e36ed 52.5px,#001ae4 58.5px,#0019e0 59.5px)"></i><i style="height:1px;background:linear-gradient(90deg,#0220e9 0.5px,#1747f0 7.5px,#498bf2 8.5px,#85f0e0 9.5px,#8df691 10.5px,#97fb5a 11.5px,#aafd3e 12.5px,#d8fd3f 14.5px,#f2fb44 15.5px,#f9e943 16.5px,#ee9d2f 19.5px,#e47222 21.5px,#e15117 23.5px,#e3370e 25.5px,#e4290a 30.5px,#e3350e 34.5px,#e25c1b 37.5px,#ec972d 40.5px,#f9e342 43.5px,#f7fa45 44.5px,#c5fe3c 46.5px,#aefd3e 47.5px,#9afc4f 48.5px,#8ff784 49.5px,#88f3ce 50.5px,#549bf2 51.5px,#1848f0 52.5px,#0321e9 59.5px)"></i><i style="height:1px;background:linear-gradient(90deg,#0a2feb 0.5px,#1d4ef0 5.5px,#295ff1 7.5px,#5298f2 8.5px,#87f2dc 9.5px,#8ef78c 10.5px,#98fb57 11.5px,#abfd3e 12.5px,#dafd3f 14.5px,#f4fb45 15.5px,#f9e742 16.5px,#ee9c2f 19.5px,#e47222 21.5px,#e15117 23.5px,#e3370e 25.5px,#e4290a 30.5px,#e3350e 34.5px,#e25c1b 37.5px,#ec972d 40.5px,#f9e241 43.5px,#f8fa46 44.5px,#c7fe3c 46.5px,#b0fd3e 47.5px,#9afc4c 48.5px,#8ff880 49.5px,#89f3c6 50.5px,#5ca7f2 51.5px,#2a61f1 52.5px,#1542ef 56.5px,#0b30ec 59.5px)"></i><i style="height:1px;background:linear-gradient(90deg,#133fee 0.5px,#2f67f1 5.5px,#3c79f2 7.5px,#5ba5f2 8.5px,#88f3d3 9.5px,#8ef787 10.5px,#99fb54 11.5px,#acfd3e 12.5px,#dcfd40 14.5px,#f5fa45 15.5px,#f7cc3d 17.5px,#e68527 20.5px,#e25f1c 22.5px,#e3370e 25.5px,#e4290a 30.5px,#e3350e 34.5px,#e25c1b 37.5px,#eb962c 40.5px,#f9e041 43.5px,#fafa46 44.5px,#c9fe3c 46.5px,#b1fd3e 47.5px,#9bfc4a 48.5px,#90f87c 49.5px,#8af4bf 50.5px,#65b3f2 51.5px,#3d7bf2 52.5px,#1440ef 59.5px)"></i><i style="height:1px;background:linear-gradient(90deg,#1e51f0 0.5px,#4b8ff2 7.5px,#64b3f2 8.5px,#89f3ca 9.5px,#8ff783 10.5px,#99fb51 11.5px,#aefd3e 12.5px,#defc40 14.5px,#f7fa45 15.5px,#f7cb3c 17.5px,#e68527 20.5px,#e25f1c 22.5px,#e3370e 25.5px,#e4290a 30.5px,#e3350e 34.5px,#e25c1b 37.5px,#eb962c 40.5px,#f9df41 43.5px,#faf846 44.5px,#cbfe3c 46.5px,#b3fd3e 47.5px,#9bfc47 48.5px,#91f878 49.5px,#8af4b7 50.5px,#6ac0f2 51.5px,#4c90f2 52.5px,#2052f0 59.5px)"></i><i style="height:1px;background:linear-gradient(90deg,#2e67f1 0.5px,#498cf2 4.5px,#57a0f2 7.5px,#6ac1f2 8.5px,#89f4c1 9.5px,#90f87e 10.5px,#9afc4e 11.5px,#affd3e 12.5px,#e0fc40 14.5px,#f9fa46 15.5px,#f3b235 18.5px,#e47222 21.5px,#e15117 23.5px,#e3370e 25.5px,#e4290a 30.5px,#e3350e 34.5px,#e25c1b 37.5px,#eb962c 40.5px,#f9dd41 43.5px,#faf645 44.5px,#cdfe3c 46.5px,#9cfd44 48.5px,#92f974 49.5px,#8bf5b0 50.5px,#70cdf2 51.5px,#58a1f2 52.5px,#3e7cf2 57.5px,#3069f1 59.5px)"></i><i style="height:1px;background:linear-gradient(90deg,#3e7df2 0.5px,#64b1f2 7.5px,#71cff2 8.5px,#8af4b9 9.5px,#91f87a 10.5px,#9afc4c 11.5px,#b1fd3e 12.5px,#c9fe3c 13.5px,#faf946 15.5px,#ed9b2e 19.5px,#e47222 21.5px,#e15117 23.5px,#e3370e 25.5px,#e4290a 30.5px,#e3350e 34.5px,#e25c1b 37.5px,#eb962c 40.5px,#f9dc40 43.5px,#faf445 44.5px,#e7fc42 45.5px,#cefe3c 46.5px,#9cfd42 48.5px,#93f970 49.5px,#8bf5a8 50.5px,#75daf2 51.5px,#64b3f2 52.5px,#407ff2 59.5px)"></i><i style="height:1px;background:linear-gradient(90deg,#4c8ff2 0.5px,#6cc4f2 7.5px,#77def2 8.5px,#8bf5b0 9.5px,#92f876 10.5px,#9bfc49 11.5px,#b2fd3e 12.5px,#cbfe3c 13.5px,#faf745 15.5px,#ed9a2e 19.5px,#e25f1c 22.5px,#e3370e 25.5px,#e4290a 30.5px,#e3350e 34.5px,#e25c1b 37.5px,#eb952c 40.5px,#f8da40 43.5px,#faf245 44.5px,#e9fb42 45.5px,#b7fe3d 47.5px,#9dfd3f 48.5px,#94f96d 49.5px,#8cf6a1 50.5px,#7be5ee 51.5px,#6cc6f2 52.5px,#4d91f2 59.5px)"></i><i style="height:1px;background:linear-gradient(90deg,#569ef2 0.5px,#74d7f2 7.5px,#7de7eb 8.5px,#8bf5a7 9.5px,#92f972 10.5px,#9cfc46 11.5px,#b4fd3e 12.5px,#cdfe3c 13.5px,#faf545 15.5px,#ed9a2e 19.5px,#e25f1c 22.5px,#e3370e 25.5px,#e4290a 30.5px,#e3350e 34.5px,#e25c1b 37.5px,#eb952c 40.5px,#f8d940 43.5px,#faf144 44.5px,#ebfb43 45.5px,#b9fe3d 47.5px,#9ffd3f 48.5px,#94fa69 49.5px,#8df69a 50.5px,#81ece6 51.5px,#75d9f2 52.5px,#57a0f2 59.5px)"></i><i style="height:1px;background:linear-gradient(90deg,#61adf2 0.5px,#78e1f2 6.5px,#84efe2 8.5px,#8cf69e 9.5px,#93f96d 10.5px,#9cfd43 11.5px,#cffe3d 13.5px,#e8fc42 14.5px,#faf445 15.5px,#ed9a2e 19.5px,#e25f1c 22.5px,#e3370e 25.5px,#e4290a 30.5px,#e3350e 34.5px,#e25c1b 37.5px,#eb952c 40.5px,#f8d73f 43.5px,#f9ef44 44.5px,#edfb43 45.5px,#bafe3d 47.5px,#a0fd3f 48.5px,#95fa65 49.5px,#8df692 50.5px,#87f2dc 51.5px,#7de7eb 52.5px,#75daf2 54.5px,#62aff2 59.5px)"></i><i style="height:1px;background:linear-gradient(90deg,#69bdf2 0.5px,#78e1f2 4.5px,#85f0e0 7.5px,#88f3ce 8.5px,#8df695 9.5px,#9dfd40 11.5px,#d0fe3d 13.5px,#eafb42 14.5px,#faf244 15.5px,#ed992d 19.5px,#e25f1c 22.5px,#e3370e 25.5px,#e4290a 30.5px,#e3350e 34.5px,#e25c1b 37.5px,#eb952c 40.5px,#f8d53f 43.5px,#f9ed44 44.5px,#effb44 45.5px,#bcfe3d 47.5px,#a1fd3f 48.5px,#96fa61 49.5px,#8ef78b 50.5px,#89f4c3 51.5px,#86f1df 52.5px,#79e2f0 55.5px,#6abff2 59.5px)"></i><i style="height:1px;background:linear-gradient(90deg,#6abff2 0.5px,#76ddf2 3.5px,#85efe1 6.5px,#88f3d1 7.5px,#8af4bb 8.5px,#8ef78c 9.5px,#9efd3f 11.5px,#d2fd3d 13.5px,#ecfb43 14.5px,#faef44 15.5px,#ec982d 19.5px,#e25f1c 22.5px,#e3370e 25.5px,#e4290a 30.5px,#e3350e 34.5px,#e25c1b 37.5px,#ea932b 40.5px,#f8d43f 43.5px,#f9eb43 44.5px,#f1fb44 45.5px,#befe3d 47.5px,#a4fd3f 48.5px,#97fb5d 49.5px,#8ff784 50.5px,#8bf5b2 51.5px,#88f3cd 52.5px,#86f0e0 53.5px,#77dff2 56.5px,#6ac1f2 59.5px)"></i><i style="height:1px;background:linear-gradient(90deg,#64b3f2 0.5px,#78e0f2 4.5px,#83ede4 6.5px,#88f3d0 7.5px,#8bf5af 8.5px,#8ff784 9.5px,#a1fd3f 11.5px,#d5fd3e 13.5px,#effb44 14.5px,#f9ed44 15.5px,#f2ab33 18.5px,#e47122 21.5px,#e15116 23.5px,#e3370e 25.5px,#e4290a 30.5px,#e3350e 34.5px,#e25c1b 37.5px,#e9922b 40.5px,#f5bb38 42.5px,#f9e943 44.5px,#f3fb45 45.5px,#c0fe3d 47.5px,#a6fd3e 48.5px,#98fb58 49.5px,#89f3c9 52.5px,#84eee2 53.5px,#79e2f1 55.5px,#65b5f2 59.5px)"></i><i style="height:1px;background:linear-gradient(90deg,#5ca7f2 0.5px,#7be4ef 5.5px,#81ebe6 6.5px,#88f3ce 7.5px,#90f87c 9.5px,#a4fd3f 11.5px,#d8fd3f 13.5px,#f1fb44 14.5px,#f9eb43 15.5px,#f2a933 18.5px,#e47022 21.5px,#e24412 24.5px,#e3370e 25.5px,#e4290a 30.5px,#e3350e 34.5px,#e36c21 38.5px,#e8902a 40.5px,#f4b937 42.5px,#f9e642 44.5px,#f6fa45 45.5px,#c3fe3d 47.5px,#a9fd3e 48.5px,#99fb54 49.5px,#8cf69b 51.5px,#89f3c6 52.5px,#82ece5 53.5px,#76dcf2 55.5px,#5eaaf2 59.5px)"></i><i style="height:1px;background:linear-gradient(90deg,#549cf2 0.5px,#72d3f2 4.5px,#78e1f2 5.5px,#7fe9e9 6.5px,#88f3cd 7.5px,#8df697 8.5px,#98fb55 10.5px,#a6fd3e 11.5px,#dafd3f 13.5px,#f4fb45 14.5px,#f9e843 15.5px,#f1a732 18.5px,#e68026 20.5px,#e15116 23.5px,#e3370e 25.5px,#e4290a 30.5px,#e3350e 34.5px,#e36b20 38.5px,#e78e29 40.5px,#f4b737 42.5px,#f8fa46 45.5px,#c5fe3c 47.5px,#abfd3e 48.5px,#9afc4f 49.5px,#8df78f 51.5px,#89f4c2 52.5px,#80eae7 53.5px,#79e3f0 54.5px,#569ef2 59.5px)"></i><i style="height:1px;background:linear-gradient(90deg,#4d90f2 0.5px,#6fccf2 4.5px,#76dcf2 5.5px,#7de7eb 6.5px,#89f3cb 7.5px,#8ef78b 8.5px,#99fc50 10.5px,#a9fd3e 11.5px,#ddfd40 13.5px,#f6fa45 14.5px,#f8cf3e 16.5px,#f1a532 18.5px,#e8902a 19.5px,#e15116 23.5px,#e3370e 25.5px,#e4290a 30.5px,#e3350e 34.5px,#e36a20 38.5px,#e78c29 40.5px,#f4b536 42.5px,#faf946 45.5px,#c8fe3c 47.5px,#aefd3e 48.5px,#9bfc4b 49.5px,#8ff784 51.5px,#8af4be 52.5px,#7ee8e9 53.5px,#77dff2 54.5px,#59a2f2 58.5px,#4f93f2 59.5px)"></i><i style="height:1px;background:linear-gradient(90deg,#4484f2 0.5px,#6cc5f2 4.5px,#7be4ee 6.5px,#89f3ca 7.5px,#8ff880 8.5px,#9afc4b 10.5px,#abfd3e 11.5px,#dffc40 13.5px,#f9fa46 14.5px,#f1a331 18.5px,#e78e29 19.5px,#e15116 23.5px,#e3370e 25.5px,#e4290a 30.5px,#e3350e 34.5px,#e36a20 38.5px,#e78b29 40.5px,#f3b336 42.5px,#faf745 45.5px,#cbfe3c 47.5px,#b1fd3e 48.5px,#9bfc46 49.5px,#91f87b 51.5px,#8af4bb 52.5px,#7de6ec 53.5px,#75daf2 54.5px,#5da7f2 57.5px,#4788f2 59.5px)"></i><i style="height:1px;background:linear-gradient(90deg,#336df1 0.5px,#4484f2 1.5px,#66b6f2 4.5px,#79e2f1 6.5px,#88f3ce 7.5px,#90f880 8.5px,#9afc4c 10.5px,#aafd3e 11.5px,#ddfd40 13.5px,#f6fa45 14.5px,#f8ce3e 16.5px,#f1a431 18.5px,#e78e29 19.5px,#e15116 23.5px,#e3370f 25.5px,#e42a0b 30.5px,#e3360e 34.5px,#e36920 38.5px,#e78a28 40.5px,#f3b436 42.5px,#faf946 45.5px,#c9fe3c 47.5px,#affd3e 48.5px,#9bfc47 49.5px,#91f87a 51.5px,#8af4be 52.5px,#7be4ef 53.5px,#5da8f2 56.5px,#4788f2 58.5px,#3671f1 59.5px)"></i><i style="height:1px;background:linear-gradient(90deg,#1d4ff0 0.5px,#4c8ff2 3.5px,#58a1f2 4.5px,#76dcf2 6.5px,#87f2d8 7.5px,#8ef78a 8.5px,#94f96a 9.5px,#99fb52 10.5px,#a6fd3e 11.5px,#d6fd3e 13.5px,#effb44 14.5px,#f9ee44 15.5px,#f1a632 18.5px,#e88f2a 19.5px,#e25e1c 22.5px,#e3390f 25.5px,#e42b0b 30.5px,#e3370f 34.5px,#e36920 38.5px,#e78b29 40.5px,#f4b837 42.5px,#f9e943 44.5px,#f3fb44 45.5px,#c2fe3d 47.5px,#aafd3e 48.5px,#9afc4d 49.5px,#8ff782 51.5px,#89f3c8 52.5px,#78e1f2 53.5px,#5ca7f2 55.5px,#316af1 58.5px,#2054f0 59.5px)"></i><i style="height:1px;background:linear-gradient(90deg,#0f38ed 0.5px,#1847f0 1.5px,#4a8cf2 4.5px,#62aff2 5.5px,#73d5f2 6.5px,#86f1df 7.5px,#8df695 8.5px,#93f970 9.5px,#a1fd3f 11.5px,#cffe3d 13.5px,#faf545 15.5px,#f1a832 18.5px,#e9902a 19.5px,#e25e1c 22.5px,#e33a0f 25.5px,#e42d0b 30.5px,#e3380f 34.5px,#e36920 38.5px,#e78c29 40.5px,#f5bb38 42.5px,#faf044 44.5px,#ecfb43 45.5px,#bbfe3d 47.5px,#a5fd3f 48.5px,#99fb52 49.5px,#94f96b 50.5px,#8ef78b 51.5px,#88f3d3 52.5px,#76ddf2 53.5px,#66b7f2 54.5px,#4f93f2 55.5px,#2b62f1 57.5px,#1b4cf0 58.5px,#113bee 59.5px)"></i><i style="height:1px;background:linear-gradient(90deg,#0423e9 0.5px,#2053f0 3.5px,#3670f1 4.5px,#59a2f2 5.5px,#70cff2 6.5px,#83eee3 7.5px,#8cf6a1 8.5px,#92f875 9.5px,#9dfd41 11.5px,#c7fe3c 13.5px,#f8fa45 15.5px,#f6c33a 17.5px,#e9922b 19.5px,#e25e1c 22.5px,#e33b10 25.5px,#e42e0c 30.5px,#e33a0f 34.5px,#e36a20 38.5px,#e78d29 40.5px,#f5bf39 42.5px,#faf745 44.5px,#ccfe3c 46.5px,#a0fd3f 48.5px,#93f970 50.5px,#8df695 51.5px,#87f2dd 52.5px,#74d8f2 53.5px,#5fabf2 54.5px,#3f7df2 55.5px,#2357f0 56.5px,#0e35ed 58.5px,#0626ea 59.5px)"></i><i style="height:1px;background:linear-gradient(90deg,#0018de 0.5px,#001de8 1.5px,#1039ed 3.5px,#1f52f0 4.5px,#5095f2 5.5px,#6ec9f2 6.5px,#81ebe6 7.5px,#8bf5ad 8.5px,#91f87b 9.5px,#9bfc49 11.5px,#a9fd3e 12.5px,#d8fd3f 14.5px,#f1fb44 15.5px,#f9e742 16.5px,#f2ad34 18.5px,#ea932b 19.5px,#e25e1c 22.5px,#e23c10 25.5px,#e32f0c 30.5px,#e33b10 34.5px,#e36a20 38.5px,#e88f2a 40.5px,#f6c23a 42.5px,#f9e041 43.5px,#f6fa45 44.5px,#c5fe3c 46.5px,#9cfd44 48.5px,#92f876 50.5px,#8cf69f 51.5px,#85efe1 52.5px,#72d4f2 53.5px,#579ff2 54.5px,#2a61f1 55.5px,#123cee 56.5px,#0220e9 58.5px,#0019e0 59.5px)"></i><i style="height:1px;background:linear-gradient(90deg,#0016da 0.5px,#001ae5 1.5px,#0d34ec 3.5px,#1b4cf0 4.5px,#4e93f2 5.5px,#6dc8f2 6.5px,#80eae7 7.5px,#8bf5b2 8.5px,#90f87e 9.5px,#9afc4f 11.5px,#a4fd3f 12.5px,#d0fe3d 14.5px,#eafb43 15.5px,#f9ed44 16.5px,#f3b235 18.5px,#ec972d 19.5px,#e2611d 22.5px,#e23f11 25.5px,#e3320d 30.5px,#e23e11 34.5px,#e36c21 38.5px,#ea932b 40.5px,#f7c73b 42.5px,#f9e742 43.5px,#effb44 44.5px,#befe3d 46.5px,#a9fd3e 47.5px,#9bfc4a 48.5px,#91f879 50.5px,#8cf5a4 51.5px,#84eee2 52.5px,#72d4f2 53.5px,#559df2 54.5px,#265cf1 55.5px,#0f37ed 56.5px,#001be7 58.5px,#0017dc 59.5px)"></i><i style="height:1px;background:linear-gradient(90deg,#0019e2 0.5px,#0a2feb 2.5px,#1441ef 3.5px,#2960f1 4.5px,#559cf2 5.5px,#70cef2 6.5px,#82ece5 7.5px,#90f880 9.5px,#99fb51 11.5px,#a2fd3f 12.5px,#cafe3c 14.5px,#faf445 16.5px,#f4b937 18.5px,#e78828 20.5px,#e2661f 22.5px,#e24412 25.5px,#e3370e 30.5px,#e24312 34.5px,#e47222 38.5px,#ed9a2e 40.5px,#f8ce3e 42.5px,#f9ee44 43.5px,#e8fc42 44.5px,#cffe3d 45.5px,#a5fd3e 47.5px,#9afc4d 48.5px,#91f87b 50.5px,#8cf5a5 51.5px,#85f0e1 52.5px,#74d8f2 53.5px,#5ba5f2 54.5px,#346ef1 55.5px,#1644ef 56.5px,#0424e9 58.5px,#001ae4 59.5px)"></i><i style="height:1px;background:linear-gradient(90deg,#011ee8 0.5px,#1039ed 2.5px,#1d4ff0 3.5px,#3773f1 4.5px,#5ba5f2 5.5px,#72d3f2 6.5px,#83ede3 7.5px,#8ff781 9.5px,#99fb54 11.5px,#9ffd3f 12.5px,#c3fe3d 14.5px,#f9fa46 16.5px,#f1a531 19.5px,#e78d29 20.5px,#e36a20 22.5px,#e24914 25.5px,#e33c10 30.5px,#e24813 34.5px,#e3681f 37.5px,#e78928 39.5px,#f4ba38 41.5px,#faf545 43.5px,#c8fe3c 45.5px,#a2fd3f 47.5px,#95fa64 49.5px,#90f87c 50.5px,#8cf5a5 51.5px,#86f1df 52.5px,#76ddf2 53.5px,#61aef2 54.5px,#2155f0 56.5px,#123dee 57.5px,#0321e9 59.5px)"></i><i style="height:1px;background:linear-gradient(90deg,#0729ea 0.5px,#1543ef 2.5px,#2a60f1 3.5px,#62aef2 5.5px,#74d9f2 6.5px,#84efe2 7.5px,#8ff783 9.5px,#94fa69 10.5px,#9cfd41 12.5px,#bcfe3d 14.5px,#f2fb44 16.5px,#f9e342 17.5px,#f2ab33 19.5px,#e68026 21.5px,#e2641e 23.5px,#e14e15 25.5px,#e24111 30.5px,#e14c15 34.5px,#e36d21 37.5px,#e88e2a 39.5px,#f5c13a 41.5px,#f8fa46 43.5px,#c2fe3d 45.5px,#9ffd3f 47.5px,#95fa65 49.5px,#90f87d 50.5px,#8cf5a6 51.5px,#87f2de 52.5px,#78e1f2 53.5px,#66b7f2 54.5px,#2e67f1 56.5px,#1847f0 57.5px,#082beb 59.5px)"></i><i style="height:1px;background:linear-gradient(90deg,#0d33ec 0.5px,#1d4ff0 2.5px,#67b8f2 5.5px,#77def2 6.5px,#86f0e0 7.5px,#8ff785 9.5px,#94f96a 10.5px,#9bfc47 12.5px,#a5fd3e 13.5px,#b6fe3d 14.5px,#d0fe3d 15.5px,#ebfb43 16.5px,#f9ea43 17.5px,#ed992d 20.5px,#e47423 22.5px,#e15317 25.5px,#e24513 30.5px,#e15116 34.5px,#e47122 37.5px,#eb952c 39.5px,#f9e442 42.5px,#f1fb44 43.5px,#bbfe3d 45.5px,#a8fd3e 46.5px,#9cfd42 47.5px,#95fa67 49.5px,#90f87f 50.5px,#8bf5a6 51.5px,#87f2d9 52.5px,#7ae3ef 53.5px,#549bf2 55.5px,#2256f0 57.5px,#1542ef 58.5px,#0e36ed 59.5px)"></i><i style="height:1px;background:linear-gradient(90deg,#123dee 0.5px,#275df1 2.5px,#4383f2 3.5px,#6bc2f2 5.5px,#79e2f1 6.5px,#87f2de 7.5px,#8ef786 9.5px,#94f96b 10.5px,#a0fd3f 13.5px,#affd3e 14.5px,#c9fe3c 15.5px,#e5fc41 16.5px,#faf144 17.5px,#f09f30 20.5px,#e78a28 21.5px,#e36d21 23.5px,#e15719 25.5px,#e14a14 30.5px,#e15618 34.5px,#e57624 37.5px,#ee9b2e 39.5px,#f9eb43 42.5px,#ebfb43 43.5px,#cefe3c 44.5px,#b4fd3e 45.5px,#a2fd3f 46.5px,#9bfc48 47.5px,#94fa68 49.5px,#8ff880 50.5px,#8bf5a7 51.5px,#88f3d5 52.5px,#7ce6ec 53.5px,#5da8f2 55.5px,#488af2 56.5px,#2d65f1 57.5px,#1d4ef0 58.5px,#1440ef 59.5px)"></i><i style="height:1px;background:linear-gradient(90deg,#1848f0 0.5px,#326bf1 2.5px,#4d91f2 3.5px,#61aef2 4.5px,#7ce5ed 6.5px,#87f2d9 7.5px,#8ef788 9.5px,#94f96c 10.5px,#9cfd43 13.5px,#a8fd3e 14.5px,#defc40 16.5px,#faf946 17.5px,#f1a531 20.5px,#e88f2a 21.5px,#e67e26 22.5px,#e25c1b 25.5px,#e14f16 30.5px,#e25b1a 34.5px,#e57b25 37.5px,#e78b29 38.5px,#f4b937 40.5px,#faf345 42.5px,#e4fc41 43.5px,#c8fe3c 44.5px,#adfd3e 45.5px,#9dfd40 46.5px,#94f969 49.5px,#8ff782 50.5px,#88f3d1 52.5px,#7ee8e9 53.5px,#72d2f2 54.5px,#65b4f2 55.5px,#3873f1 57.5px,#1a4bf0 59.5px)"></i><i style="height:1px;background:linear-gradient(90deg,#2357f0 0.5px,#3c7af2 2.5px,#67b8f2 4.5px,#73d4f2 5.5px,#7ee8ea 6.5px,#88f3d3 7.5px,#8ef788 9.5px,#94f96c 10.5px,#9bfc48 13.5px,#a4fd3f 14.5px,#d9fd3f 16.5px,#f6fa45 17.5px,#f6c43b 19.5px,#eb962c 21.5px,#e68227 22.5px,#e2621d 25.5px,#e15518 30.5px,#e2601d 34.5px,#e68026 37.5px,#f1a632 39.5px,#f9db40 41.5px,#faf846 42.5px,#c3fe3d 44.5px,#a9fd3e 45.5px,#9cfc45 46.5px,#94f96a 49.5px,#8ff781 50.5px,#88f3cc 52.5px,#80ebe7 53.5px,#75d9f2 54.5px,#69bef2 55.5px,#4282f2 57.5px,#265bf1 59.5px)"></i><i style="height:1px;background:linear-gradient(90deg,#2f68f1 0.5px,#4788f2 2.5px,#6abff2 4.5px,#75daf2 5.5px,#80eae7 6.5px,#88f3cd 7.5px,#8ef785 9.5px,#94f96c 10.5px,#9bfc48 13.5px,#a3fd3f 14.5px,#d6fd3e 16.5px,#f2fb44 17.5px,#f9e642 18.5px,#f3b035 20.5px,#e78828 22.5px,#e3681f 25.5px,#e25b1a 30.5px,#e2671f 34.5px,#e68527 37.5px,#f6c43a 40.5px,#f8fa45 42.5px,#c0fe3d 44.5px,#a8fd3e 45.5px,#9cfc46 46.5px,#94f969 49.5px,#90f87f 50.5px,#89f3c6 52.5px,#82ede4 53.5px,#77dff2 54.5px,#5da8f2 56.5px,#4a8df2 57.5px,#326bf1 59.5px)"></i><i style="height:1px;background:linear-gradient(90deg,#3b79f2 0.5px,#4e92f2 2.5px,#6dc6f2 4.5px,#77dff2 5.5px,#82ede4 6.5px,#8cf5a4 8.5px,#8ff783 9.5px,#94f96b 10.5px,#9bfc49 13.5px,#a2fd3f 14.5px,#d2fd3d 16.5px,#eefb43 17.5px,#f9ea43 18.5px,#f4b536 20.5px,#f0a231 21.5px,#e78d29 22.5px,#e46f21 25.5px,#e2621d 30.5px,#e36d21 34.5px,#e78a28 37.5px,#f7c93c 40.5px,#f9e542 41.5px,#f4fb45 42.5px,#bdfe3d 44.5px,#a7fd3e 45.5px,#9bfc47 46.5px,#94fa69 49.5px,#90f87e 50.5px,#84efe1 53.5px,#79e3f0 54.5px,#63b0f2 56.5px,#5197f2 57.5px,#3e7cf2 59.5px)"></i><i style="height:1px;background:linear-gradient(90deg,#4789f2 0.5px,#559df2 2.5px,#70cdf2 4.5px,#7ae3f0 5.5px,#84efe2 6.5px,#8ff881 9.5px,#94f96a 10.5px,#9bfc4a 13.5px,#a1fd3f 14.5px,#cffe3d 16.5px,#eafb43 17.5px,#f9ef44 18.5px,#f4bb38 20.5px,#ea942b 22.5px,#e57523 25.5px,#e3681f 30.5px,#e47423 34.5px,#e9912a 37.5px,#f8ce3d 40.5px,#f9e943 41.5px,#f0fb44 42.5px,#bafe3d 44.5px,#a5fd3e 45.5px,#9bfc47 46.5px,#94fa68 49.5px,#90f87c 50.5px,#8af4bb 52.5px,#86f1df 53.5px,#7ce5ed 54.5px,#72d2f2 55.5px,#58a1f2 57.5px,#488bf2 59.5px)"></i><i style="height:1px;background:linear-gradient(90deg,#4f94f2 0.5px,#5ca7f2 2.5px,#72d4f2 4.5px,#7ce6ec 5.5px,#86f1df 6.5px,#8cf69c 8.5px,#90f87f 9.5px,#94f96a 10.5px,#a0fd3f 14.5px,#b3fd3e 15.5px,#ccfe3c 16.5px,#e6fc42 17.5px,#faf345 18.5px,#f5c039 20.5px,#ed9a2e 22.5px,#e68527 24.5px,#e57824 26.5px,#e46f21 30.5px,#e57a25 34.5px,#ec972d 37.5px,#f8d33f 40.5px,#f9ee44 41.5px,#ecfb43 42.5px,#d1fe3d 43.5px,#b7fe3d 44.5px,#a4fd3f 45.5px,#9bfc48 46.5px,#95fa68 49.5px,#91f87a 50.5px,#8af4b5 52.5px,#87f2d9 53.5px,#7ee8e9 54.5px,#75d9f2 55.5px,#5fabf2 57.5px,#5096f2 59.5px)"></i><i style="height:1px;background:linear-gradient(90deg,#579ff2 0.5px,#63b1f2 2.5px,#75dbf2 4.5px,#7fe9e9 5.5px,#87f2d8 6.5px,#8df697 8.5px,#90f87d 9.5px,#94f969 10.5px,#9ffd3f 14.5px,#b0fd3e 15.5px,#c8fe3c 16.5px,#faf846 18.5px,#f6c63b 20.5px,#f0a130 22.5px,#e68227 25.5px,#e57523 30.5px,#e68127 34.5px,#ef9e2f 37.5px,#f8d840 40.5px,#faf345 41.5px,#e8fc42 42.5px,#cefe3c 43.5px,#b4fd3e 44.5px,#a3fd3f 45.5px,#99fb53 47.5px,#95fa67 49.5px,#91f878 50.5px,#8bf5af 52.5px,#88f3d1 53.5px,#81ebe6 54.5px,#77dff2 55.5px,#65b5f2 57.5px,#58a1f2 59.5px)"></i><i style="height:1px;background:linear-gradient(90deg,#5fabf2 0.5px,#68bcf2 2.5px,#79e2f1 4.5px,#82ece5 5.5px,#88f3d0 6.5px,#8df693 8.5px,#91f87a 9.5px,#94fa69 10.5px,#9efd3f 14.5px,#aefd3e 15.5px,#dffc40 17.5px,#f8fa45 18.5px,#f7cb3d 20.5px,#f1a732 22.5px,#e78828 25.5px,#e67c25 30.5px,#e78728 34.5px,#f1a531 37.5px,#f9dd41 40.5px,#faf746 41.5px,#cafe3c 43.5px,#b1fd3e 44.5px,#a1fd3f 45.5px,#99fb53 47.5px,#95fa67 49.5px,#91f876 50.5px,#8ef78d 51.5px,#89f3ca 53.5px,#83eee3 54.5px,#7ae4ef 55.5px,#6ac0f2 57.5px,#60acf2 59.5px)"></i><i style="height:1px;background:linear-gradient(90deg,#66b6f2 0.5px,#6dc7f2 2.5px,#7ce5ed 4.5px,#84efe1 5.5px,#8df78e 8.5px,#94fa68 10.5px,#9dfd3f 14.5px,#abfd3e 15.5px,#dbfd3f 17.5px,#f3fb45 18.5px,#f9e742 19.5px,#f5be39 21.5px,#f2ad34 22.5px,#e88e29 25.5px,#e68227 30.5px,#e78d29 34.5px,#f2ab33 37.5px,#f9e241 40.5px,#f8fa46 41.5px,#c7fe3c 43.5px,#aefd3e 44.5px,#a0fd3f 45.5px,#95fa66 49.5px,#8ef789 51.5px,#86f1df 54.5px,#76dcf2 56.5px,#6fcbf2 57.5px,#67b8f2 59.5px)"></i><i style="height:1px;background:linear-gradient(90deg,#6bc3f2 0.5px,#72d3f2 2.5px,#78e1f2 3.5px,#87f2de 5.5px,#8ef78a 8.5px,#95fa67 10.5px,#9dfd40 14.5px,#a8fd3e 15.5px,#d7fd3e 17.5px,#effb44 18.5px,#f9ed43 19.5px,#f6c43b 21.5px,#f3b336 22.5px,#eb962c 25.5px,#e78828 30.5px,#ea942c 34.5px,#f3b135 37.5px,#f9e742 40.5px,#f4fb45 41.5px,#c3fe3d 43.5px,#abfd3e 44.5px,#9ffd3f 45.5px,#92f973 50.5px,#8ef785 51.5px,#87f2d8 54.5px,#7ae3f0 56.5px,#6fccf2 58.5px,#6cc4f2 59.5px)"></i><i style="height:1px;background:linear-gradient(90deg,#70cff2 0.5px,#77def2 2.5px,#83ede4 4.5px,#88f3d4 5.5px,#8ef786 8.5px,#95fa67 10.5px,#9cfd42 14.5px,#a6fd3e 15.5px,#d3fd3e 17.5px,#ebfb43 18.5px,#faf244 19.5px,#f4b937 22.5px,#ef9d2f 25.5px,#e88e29 30.5px,#ee9c2e 34.5px,#f4b737 37.5px,#f9ed43 40.5px,#effb44 41.5px,#c0fe3d 43.5px,#a8fd3e 44.5px,#9efd3f 45.5px,#93f971 50.5px,#8ff781 51.5px,#88f3ce 54.5px,#84efe2 55.5px,#78e0f2 57.5px,#71d1f2 59.5px)"></i><i style="height:1px;background:linear-gradient(90deg,#76dcf2 0.5px,#7ce5ed 2.5px,#86f1df 4.5px,#8ff782 8.5px,#95fa66 10.5px,#9cfd43 14.5px,#a3fd3f 15.5px,#cffe3d 17.5px,#faf745 19.5px,#f5bf39 22.5px,#f1a431 25.5px,#eb962c 30.5px,#f1a331 34.5px,#f5bd39 37.5px,#faf244 40.5px,#ebfb43 41.5px,#bcfe3d 43.5px,#a5fd3f 44.5px,#9dfd40 45.5px,#93f96f 50.5px,#90f87e 51.5px,#87f2de 55.5px,#79e2f0 58.5px,#76ddf2 59.5px)"></i><i style="height:1px;background:linear-gradient(90deg,#7be5ee 0.5px,#85f0e0 3.5px,#88f2d5 4.5px,#90f87e 8.5px,#95fa66 10.5px,#a0fd3f 15.5px,#cbfe3c 17.5px,#f8fa46 19.5px,#f6c53b 22.5px,#f2ab33 25.5px,#ef9e2f 30.5px,#f2aa33 34.5px,#f6c33a 37.5px,#faf745 40.5px,#d0fe3d 42.5px,#a2fd3f 44.5px,#9afc4d 46.5px,#93f96d 50.5px,#8df78e 52.5px,#88f3d1 55.5px,#86f1df 56.5px,#7ce5ed 59.5px)"></i><i style="height:1px;background:linear-gradient(90deg,#81ece6 0.5px,#87f2df 2.5px,#89f3c8 4.5px,#91f87a 8.5px,#95fa65 10.5px,#9efd3f 15.5px,#c7fe3c 17.5px,#f4fb45 19.5px,#f9ed43 20.5px,#f7cb3d 22.5px,#f3b235 25.5px,#f1a531 30.5px,#f3b135 34.5px,#f7ca3c 37.5px,#f8fa46 40.5px,#ccfe3c 42.5px,#9ffd3f 44.5px,#94f96c 50.5px,#8ef788 52.5px,#89f3c5 55.5px,#87f2dd 57.5px,#82ece5 59.5px)"></i><i style="height:1px;background:linear-gradient(90deg,#85f0e0 0.5px,#88f3d2 2.5px,#89f4bf 4.5px,#91f877 8.5px,#95fa64 10.5px,#9dfd41 15.5px,#d9fd3f 18.5px,#eefb43 19.5px,#faf345 20.5px,#f8d23e 22.5px,#f4b937 25.5px,#f2ab33 30.5px,#f4b837 34.5px,#f8d13e 37.5px,#faf044 39.5px,#f2fb44 40.5px,#c8fe3c 42.5px,#9dfd3f 44.5px,#92f974 51.5px,#8af4bc 55.5px,#86f0e0 59.5px)"></i><i style="height:1px;background:linear-gradient(90deg,#87f2de 0.5px,#8af4b9 4.5px,#92f875 8.5px,#96fa63 10.5px,#9dfd41 15.5px,#d4fd3e 18.5px,#f9fa46 20.5px,#f9db40 22.5px,#f5c039 25.5px,#f3b135 30.5px,#f5be39 34.5px,#f8d940 37.5px,#faf846 39.5px,#d8fd3f 41.5px,#9dfd3f 44.5px,#92f972 51.5px,#8af4b6 55.5px,#87f2dc 59.5px)"></i><i style="height:1px;background:linear-gradient(90deg,#88f2d7 0.5px,#8af4b3 4.5px,#92f973 8.5px,#96fa61 10.5px,#9dfd41 15.5px,#d0fe3d 18.5px,#f1fb44 20.5px,#faf245 21.5px,#f8d940 23.5px,#f5c13a 26.5px,#f4b637 30.5px,#f6c53b 34.5px,#f9e141 37.5px,#f5fa45 39.5px,#c1fe3d 42.5px,#9dfd40 44.5px,#93f970 51.5px,#8bf5b0 55.5px,#88f3d5 59.5px)"></i><i style="height:1px;background:linear-gradient(90deg,#88f3d0 0.5px,#8bf5ad 4.5px,#93f970 8.5px,#96fa5f 10.5px,#9dfd41 15.5px,#cbfe3c 18.5px,#f9fa46 21.5px,#f9e141 23.5px,#f6c73b 26.5px,#f5bc38 30.5px,#f7cc3d 34.5px,#faf745 38.5px,#cffe3d 41.5px,#9dfd40 44.5px,#93f96d 51.5px,#8bf5aa 55.5px,#88f3ce 59.5px)"></i><i style="height:1px;background:linear-gradient(90deg,#89f3c8 0.5px,#8bf5a7 4.5px,#93f96e 8.5px,#98fb58 11.5px,#9dfd41 15.5px,#d6fd3e 19.5px,#f2fb44 21.5px,#faf445 22.5px,#f7cd3d 26.5px,#f6c23a 30.5px,#f8d23e 34.5px,#faf244 37.5px,#f5fa45 38.5px,#bafe3d 42.5px,#9dfd40 44.5px,#94f96b 51.5px,#8cf5a4 55.5px,#89f3c7 59.5px)"></i><i style="height:1px;background:linear-gradient(90deg,#89f4c1 0.5px,#8cf6a1 4.5px,#94f96b 8.5px,#98fb57 11.5px,#9cfd41 15.5px,#d0fe3d 19.5px,#f8fa46 22.5px,#f8d33e 26.5px,#f7c83c 30.5px,#f8d940 34.5px,#fafa46 37.5px,#c5fe3c 41.5px,#9dfd40 44.5px,#94fa69 51.5px,#8cf69e 55.5px,#89f4c0 59.5px)"></i><i style="height:1px;background:linear-gradient(90deg,#8af4ba 0.5px,#8cf69b 4.5px,#96fa60 9.5px,#9cfd42 15.5px,#d4fd3e 20.5px,#f0fb44 22.5px,#faf946 23.5px,#f8d940 26.5px,#f8cd3d 30.5px,#f8d840 33.5px,#faf745 36.5px,#e5fc42 38.5px,#c0fe3d 41.5px,#9dfd41 44.5px,#95fa67 51.5px,#8df698 55.5px,#8af4b9 59.5px)"></i><i style="height:1px;background:linear-gradient(90deg,#8af4b3 0.5px,#8df694 4.5px,#97fa5e 9.5px,#9cfd42 15.5px,#ccfe3c 20.5px,#f4fb45 23.5px,#faf545 24.5px,#f9df41 26.5px,#f8d33f 30.5px,#f9de41 33.5px,#f6fa45 36.5px,#c5fe3c 40.5px,#9dfd41 44.5px,#95fa64 51.5px,#8cf69b 56.5px,#8bf5b2 59.5px)"></i><i style="height:1px;background:linear-gradient(90deg,#8bf5ac 0.5px,#8df78e 4.5px,#97fb5c 9.5px,#9cfd42 15.5px,#c5fe3c 20.5px,#f8fa46 24.5px,#f9e542 26.5px,#f8d940 30.5px,#f9e442 33.5px,#fafa46 35.5px,#bffe3d 40.5px,#9dfd41 44.5px,#96fa62 51.5px,#8df694 56.5px,#8bf5aa 59.5px)"></i><i style="height:1px;background:linear-gradient(90deg,#8cf5a5 0.5px,#90f87f 5.5px,#97fb5a 9.5px,#a1fd3f 16.5px,#bdfe3d 20.5px,#f1fb44 24.5px,#faf745 25.5px,#f9eb43 26.5px,#f9df41 30.5px,#f9ea43 33.5px,#faf445 34.5px,#e7fc42 36.5px,#c0fe3d 39.5px,#9dfd41 44.5px,#96fa60 51.5px,#8df78e 56.5px,#8cf5a3 59.5px)"></i><i style="height:1px;background:linear-gradient(90deg,#8cf69e 0.5px,#92f971 6.5px,#98fb59 9.5px,#9ffd3f 16.5px,#b6fe3d 20.5px,#eafb43 24.5px,#f7fa45 25.5px,#f9ed44 27.5px,#f9e542 30.5px,#faf044 33.5px,#f9fa46 34.5px,#c6fe3c 38.5px,#b9fe3d 39.5px,#9cfd42 44.5px,#97fa5e 51.5px,#8ef788 56.5px,#8cf69c 59.5px)"></i><i style="height:1px;background:linear-gradient(90deg,#8df696 0.5px,#93f96e 6.5px,#98fb57 9.5px,#a2fd3f 17.5px,#aefd3e 20.5px,#d6fd3e 23.5px,#faf745 26.5px,#f9eb43 30.5px,#faf645 33.5px,#e6fc42 35.5px,#befe3d 38.5px,#b1fd3e 39.5px,#9cfd42 44.5px,#97fb5b 51.5px,#8ff782 56.5px,#8df695 59.5px)"></i><i style="height:1px;background:linear-gradient(90deg,#8df691 0.5px,#94f96b 6.5px,#98fb55 9.5px,#a0fd3f 17.5px,#aafd3e 20.5px,#defc40 24.5px,#f8fa46 26.5px,#faf044 30.5px,#f9fa46 33.5px,#bafe3d 38.5px,#adfd3e 39.5px,#9cfd42 44.5px,#97fb5a 51.5px,#90f87e 56.5px,#8df78f 59.5px)"></i><i style="height:1px;background:linear-gradient(90deg,#8ef78c 0.5px,#94fa68 6.5px,#99fb51 10.5px,#a0fd3f 17.5px,#aafd3e 20.5px,#dcfd3f 24.5px,#f4fb45 26.5px,#faf445 30.5px,#f5fa45 33.5px,#b9fe3d 38.5px,#adfd3e 39.5px,#9cfd42 44.5px,#98fb58 51.5px,#8ff880 57.5px,#8ef78b 59.5px)"></i><i style="height:1px;background:linear-gradient(90deg,#8ef788 0.5px,#95fa65 6.5px,#99fc50 10.5px,#a0fd3f 17.5px,#aafd3e 20.5px,#d9fd3f 24.5px,#f0fb44 26.5px,#faf846 30.5px,#f1fb44 33.5px,#c4fe3d 37.5px,#acfd3e 39.5px,#9cfd42 44.5px,#98fb57 51.5px,#8ff782 58.5px,#8ef787 59.5px)"></i><i style="height:1px;background:linear-gradient(90deg,#8ff784 0.5px,#99fb52 9.5px,#a0fd3f 17.5px,#aafd3e 20.5px,#d7fd3e 24.5px,#edfb43 26.5px,#f8fa45 30.5px,#edfb43 33.5px,#c3fe3d 37.5px,#acfd3e 39.5px,#9dfd41 44.5px,#98fb55 51.5px,#8ff783 59.5px)"></i><i style="height:1px;background:linear-gradient(90deg,#8ff880 0.5px,#99fc51 9.5px,#a0fd3f 17.5px,#aafd3e 20.5px,#d4fd3e 24.5px,#e9fc42 26.5px,#f4fb45 30.5px,#e9fb42 33.5px,#c1fe3d 37.5px,#acfd3e 39.5px,#9dfd41 44.5px,#99fb54 51.5px,#90f87f 59.5px)"></i><i style="height:1px;background:linear-gradient(90deg,#90f87d 0.5px,#9afc50 9.5px,#a0fd3f 17.5px,#aafd3e 20.5px,#dcfd3f 25.5px,#e8fc42 27.5px,#f0fb44 30.5px,#e6fc42 33.5px,#b5fe3d 38.5px,#a7fd3e 40.5px,#9dfd41 44.5px,#98fb58 52.5px,#90f87c 59.5px)"></i><i style="height:1px;background:linear-gradient(90deg,#91f879 0.5px,#9afc4e 9.5px,#a0fd3f 17.5px,#aafd3e 20.5px,#d9fd3f 25.5px,#e4fc41 27.5px,#ecfb43 30.5px,#dbfd3f 34.5px,#abfd3e 39.5px,#9dfd41 44.5px,#98fb56 52.5px,#91f878 59.5px)"></i><i style="height:1px;background:linear-gradient(90deg,#92f875 0.5px,#9afc4d 9.5px,#a0fd3f 17.5px,#a9fd3e 20.5px,#d6fd3e 25.5px,#e4fc41 28.5px,#e8fc42 30.5px,#d7fd3e 34.5px,#abfd3e 39.5px,#9dfd41 44.5px,#99fb54 52.5px,#92f975 59.5px)"></i><i style="height:1px;background:linear-gradient(90deg,#92f972 0.5px,#9afc4c 9.5px,#a0fd3f 17.5px,#a9fd3e 20.5px,#d9fd3f 26.5px,#e3fc41 30.5px,#d4fd3e 34.5px,#abfd3e 39.5px,#9dfd41 44.5px,#98fb55 53.5px,#93f971 59.5px)"></i><i style="height:1px;background:linear-gradient(90deg,#93f96e 0.5px,#9afc4e 8.5px,#a0fd3f 17.5px,#b0fd3e 21.5px,#d6fd3e 26.5px,#dffc40 30.5px,#d1fe3d 34.5px,#aafd3e 39.5px,#9dfd41 44.5px,#99fb53 53.5px,#93f96d 59.5px)"></i><i style="height:1px;background:linear-gradient(90deg,#94f96b 0.5px,#9afc4c 8.5px,#a0fd3f 17.5px,#affd3e 21.5px,#d2fe3d 26.5px,#dbfd3f 30.5px,#cefe3c 34.5px,#aafd3e 39.5px,#9dfd40 44.5px,#99fb54 54.5px,#94f96a 59.5px)"></i><i style="height:1px;background:linear-gradient(90deg,#95fa67 0.5px,#9afc4c 7.5px,#a0fd3f 17.5px,#aefd3e 21.5px,#cefe3c 26.5px,#d7fd3e 30.5px,#c4fe3d 35.5px,#a6fd3e 40.5px,#9dfd40 44.5px,#99fc51 54.5px,#95fa66 59.5px)"></i><i style="height:1px;background:linear-gradient(90deg,#95fa63 0.5px,#9bfc4a 7.5px,#a0fd3f 17.5px,#b3fd3e 22.5px,#cafe3c 26.5px,#d3fd3e 30.5px,#c1fe3d 35.5px,#a6fd3e 40.5px,#9dfd40 44.5px,#9afc4e 54.5px,#96fa62 59.5px)"></i><i style="height:1px;background:linear-gradient(90deg,#96fa60 0.5px,#9bfc49 7.5px,#a0fd3f 17.5px,#b2fd3e 22.5px,#c7fe3c 26.5px,#d0fe3d 30.5px,#bffe3d 35.5px,#a6fd3e 40.5px,#9dfd40 44.5px,#9afc4c 54.5px,#96fa60 59.5px)"></i><i style="height:1px;background:linear-gradient(90deg,#96fa5f 0.5px,#9bfc49 7.5px,#a0fd3f 17.5px,#b1fd3e 22.5px,#c7fe3c 27.5px,#cdfe3c 30.5px,#bdfe3d 35.5px,#a6fd3e 40.5px,#9dfd41 45.5px,#9afc4f 55.5px,#97fa5e 59.5px)"></i><i style="height:1px;background:linear-gradient(90deg,#97fb5d 0.5px,#9bfc49 7.5px,#a0fd3f 17.5px,#b5fe3d 23.5px,#c6fe3c 28.5px,#c7fe3c 31.5px,#b6fe3d 36.5px,#a0fd3f 42.5px,#9afc4f 55.5px,#97fb5c 59.5px)"></i><i style="height:1px;background:linear-gradient(90deg,#97fb5b 0.5px,#9bfc48 7.5px,#a0fd3f 17.5px,#b3fd3e 23.5px,#c6fe3c 29.5px,#b8fe3d 35.5px,#a3fd3f 41.5px,#9cfd44 48.5px,#9afc4e 55.5px,#97fb5a 59.5px)"></i><i style="height:1px;background:linear-gradient(90deg,#98fb59 0.5px,#9bfc47 8.5px,#a0fd3f 17.5px,#b6fe3d 24.5px,#c3fe3d 30.5px,#b2fd3e 36.5px,#9efd3f 43.5px,#9afc4d 55.5px,#98fb58 59.5px)"></i><i style="height:1px;background:linear-gradient(90deg,#98fb57 0.5px,#9cfc45 9.5px,#a2fd3f 18.5px,#bffe3d 29.5px,#b1fd3e 36.5px,#9dfd3f 44.5px,#9afc4f 56.5px,#98fb56 59.5px)"></i><i style="height:1px;background:linear-gradient(90deg,#98fb55 0.5px,#9cfd44 10.5px,#a2fd3f 18.5px,#bcfe3d 29.5px,#affd3e 36.5px,#9dfd40 45.5px,#99fc50 57.5px,#98fb55 59.5px)"></i><i style="height:1px;background:linear-gradient(90deg,#99fb53 0.5px,#9cfd42 12.5px,#a5fd3e 20.5px,#b9fe3d 29.5px,#abfd3e 37.5px,#9dfd40 45.5px,#99fc51 58.5px,#99fb53 59.5px)"></i><i style="height:1px;background:linear-gradient(90deg,#99fb51 0.5px,#9dfd3f 15.5px,#b6fe3d 30.5px,#9dfd41 46.5px,#99fc51 59.5px)"></i><i style="height:1px;background:linear-gradient(90deg,#9afc4f 0.5px,#a0fd3f 17.5px,#b2fd3e 30.5px,#9dfd41 46.5px,#9afc4f 59.5px)"></i><i style="height:1px;background:linear-gradient(90deg,#9afc4e 0.5px,#a1fd3f 18.5px,#aefd3e 31.5px,#9dfd41 47.5px,#9afc4d 59.5px)"></i><i style="height:2px;background:linear-gradient(90deg,#9afc4c 0.5px,#a1fd3f 18.5px,#abfd3e 31.5px,#9cfd43 49.5px,#9afc4b 59.5px)"></i><i style="height:3px;background:linear-gradient(90deg,#9bfc49 0.5px,#a1fd3f 19.5px,#a7fd3e 32.5px,#9cfd44 52.5px,#9bfc49 59.5px)"></i><i style="height:3px;background:linear-gradient(90deg,#9bfc46 0.5px,#a4fd3f 26.5px,#9cfd44 54.5px,#9cfc46 59.5px)"></i><i style="height:3px;background:linear-gradient(90deg,#9cfd43 0.5px,#a0fd3f 37.5px,#9cfd43 59.5px)"></i><i style="height:137px;background:#9dfd40"></i></div>
<div class="f" style="left:194px;top:22px;width:59px;height:365px"><i style="height:26px;background:#e78d29"></i><i style="height:16px;background:#e8902a"></i><i style="height:7px;background:#ea932b"></i><i style="height:7px;background:#eb952c"></i><i style="height:5px;background:#ec982d"></i><i style="height:5px;background:#ed9a2e"></i><i style="height:5px;background:#ef9d2f"></i><i style="height:5px;background:#f0a030"></i><i style="height:4px;background:#f0a331"></i><i style="height:3px;background:#f1a632"></i><i style="height:3px;background:#f2a933"></i><i style="height:3px;background:#f2ac34"></i><i style="height:3px;background:#f3af34"></i><i style="height:3px;background:#f3b235"></i><i style="height:3px;background:#f4b536"></i><i style="height:2px;background:#f4b937"></i><i style="height:2px;background:#f5bc38"></i><i style="height:2px;background:#f5bf39"></i><i style="height:2px;background:#f6c23a"></i><i style="height:2px;background:#f6c53b"></i><i style="height:2px;background:#f7c83c"></i><i style="height:2px;background:#f7cb3d"></i><i style="height:2px;background:#f8ce3e"></i><i style="height:2px;background:#f8d13e"></i><i style="height:2px;background:#f8d53f"></i><i style="height:2px;background:#f8d840"></i><i style="height:2px;background:#f9db40"></i><i style="height:2px;background:#f9df41"></i><i style="height:2px;background:#f9e242"></i><i style="height:2px;background:#f9e642"></i><i style="height:2px;background:#f9e943"></i><i style="height:2px;background:#f9ec43"></i><i style="height:2px;background:#f9ef44"></i><i style="height:2px;background:#faf345"></i><i style="height:3px;background:#faf545"></i><i style="height:3px;background:linear-gradient(90deg,#faf745 0.5px,#faf044 37.5px,#faf745 58.5px)"></i><i style="height:2px;background:linear-gradient(90deg,#f9fa46 0.5px,#faf545 12.5px,#f9ed43 26.5px,#faf245 44.5px,#f9fa46 54.5px,#f9fa46 58.5px)"></i><i style="height:1px;background:linear-gradient(90deg,#f7fa45 0.5px,#faf846 10.5px,#f9e742 21.5px,#f9e943 40.5px,#f8fa45 51.5px,#f7fa45 58.5px)"></i><i style="height:1px;background:linear-gradient(90deg,#f6fa45 0.5px,#faf846 10.5px,#f9e442 20.5px,#f9e542 39.5px,#f8fa45 50.5px,#f6fa45 58.5px)"></i><i style="height:1px;background:linear-gradient(90deg,#f4fa45 0.5px,#f9fa46 9.5px,#f9e241 19.5px,#f9e041 37.5px,#f9ef44 45.5px,#f7fa45 50.5px,#f4fa45 58.5px)"></i><i style="height:1px;background:linear-gradient(90deg,#f4fb45 0.5px,#f6fa45 8.5px,#faf144 12.5px,#f9de41 19.5px,#f9db40 36.5px,#f9ea43 44.5px,#f9fa46 49.5px,#f4fb45 56.5px,#f4fb45 58.5px)"></i><i style="height:1px;background:linear-gradient(90deg,#f4fb45 0.5px,#f7fa45 8.5px,#f9ef44 12.5px,#f9db40 19.5px,#f8d73f 35.5px,#f9e141 42.5px,#f9fa46 49.5px,#f4fb45 55.5px,#f4fb45 58.5px)"></i><i style="height:1px;background:linear-gradient(90deg,#f5fa45 0.5px,#f8fa46 8.5px,#f8d73f 19.5px,#f8d33f 35.5px,#f9de41 42.5px,#f8fa46 50.5px,#f5fa45 58.5px)"></i><i style="height:1px;background:linear-gradient(90deg,#f7fa45 0.5px,#faf645 9.5px,#f8d43f 18.5px,#f8ce3d 30.5px,#f8d43f 40.5px,#fafa46 50.5px,#f7fa45 58.5px)"></i><i style="height:1px;background:linear-gradient(90deg,#faf946 0.5px,#faf545 8.5px,#f8cf3e 18.5px,#f7c83c 29.5px,#f8cf3e 40.5px,#faf846 51.5px,#faf946 58.5px)"></i><i style="height:1px;background:linear-gradient(90deg,#faf345 0.5px,#faf044 8.5px,#f7ca3c 18.5px,#f6c33a 30.5px,#f7ca3c 40.5px,#faf244 51.5px,#faf345 58.5px)"></i><i style="height:1px;background:linear-gradient(90deg,#f9ec43 0.5px,#f9e943 8.5px,#f6c53b 18.5px,#f5be39 30.5px,#f6c53b 40.5px,#f9eb43 51.5px,#f9ec43 58.5px)"></i><i style="height:1px;background:linear-gradient(90deg,#f9e342 0.5px,#f9e041 8.5px,#f5bf39 18.5px,#f4b937 31.5px,#f6c13a 41.5px,#f9e241 51.5px,#f9e342 58.5px)"></i><i style="height:1px;background:linear-gradient(90deg,#f8da40 0.5px,#f8d73f 8.5px,#f4b837 19.5px,#f4b536 36.5px,#f6c33a 44.5px,#f8d940 51.5px,#f8da40 58.5px)"></i><i style="height:1px;background:linear-gradient(90deg,#f8d03e 0.5px,#f8cd3d 8.5px,#f3b235 19.5px,#f3b135 38.5px,#f6c23a 46.5px,#f8d03e 52.5px,#f8d03e 58.5px)"></i><i style="height:1px;background:linear-gradient(90deg,#f6c63b 0.5px,#f6c23a 9.5px,#f2ac33 20.5px,#f2ac34 39.5px,#f6c63b 52.5px,#f6c63b 58.5px)"></i><i style="height:1px;background:linear-gradient(90deg,#ed992e 0.5px,#f4b536 8.5px,#f1a732 25.5px,#f2ab33 41.5px,#f4b536 50.5px,#ed992e 58.5px)"></i><i style="height:1px;background:linear-gradient(90deg,#e15518 0.5px,#e2621d 2.5px,#ee9c2e 7.5px,#f2ac34 10.5px,#f1a632 35.5px,#f2ac34 48.5px,#ee9c2e 51.5px,#e2621d 56.5px,#e15518 58.5px)"></i><i style="height:1px;background:linear-gradient(90deg,#e42d0c 0.5px,#e23f11 2.5px,#e68026 6.5px,#f0a030 9.5px,#f2aa33 12.5px,#f1a732 39.5px,#f1a832 47.5px,#f0a030 49.5px,#e68026 52.5px,#e23f11 56.5px,#e42d0c 58.5px)"></i><i style="height:1px;background:linear-gradient(90deg,#e32f0c 0.5px,#e24011 2.5px,#e67e26 6.5px,#ef9d2f 9.5px,#f1a732 12.5px,#f1a532 47.5px,#eb952c 50.5px,#e46f21 53.5px,#e24011 56.5px,#e32f0c 58.5px)"></i><i style="height:1px;background:linear-gradient(90deg,#e3370e 0.5px,#e24613 2.5px,#e78a28 7.5px,#f0a030 10.5px,#f1a532 16.5px,#f1a331 47.5px,#ea932b 50.5px,#e47122 53.5px,#e24613 56.5px,#e3370e 58.5px)"></i><i style="height:1px;background:linear-gradient(90deg,#e23e11 0.5px,#e14c15 2.5px,#e78a28 7.5px,#ef9f2f 10.5px,#f1a431 16.5px,#f0a230 47.5px,#ea922b 50.5px,#e47323 53.5px,#e14c15 56.5px,#e23e11 58.5px)"></i><i style="height:1px;background:linear-gradient(90deg,#e24513 0.5px,#e15217 2.5px,#e78a28 7.5px,#ef9d2f 10.5px,#f0a331 17.5px,#f0a030 47.5px,#e9922b 50.5px,#e57623 53.5px,#e14a14 57.5px,#e24513 58.5px)"></i><i style="height:1px;background:linear-gradient(90deg,#e14c15 0.5px,#e15719 2.5px,#e78a28 7.5px,#ee9c2f 10.5px,#f0a231 17.5px,#f09f30 47.5px,#e9922b 50.5px,#e36d21 54.5px,#e15016 57.5px,#e14c15 58.5px)"></i><i style="height:1px;background:linear-gradient(90deg,#e15217 0.5px,#e2661f 3.5px,#e78b29 7.5px,#ee9c2e 10.5px,#f0a130 18.5px,#ef9e2f 47.5px,#e9922b 50.5px,#e47022 54.5px,#e15618 57.5px,#e15217 58.5px)"></i><i style="height:1px;background:linear-gradient(90deg,#e15819 0.5px,#e36a20 3.5px,#e9922b 8.5px,#ef9f30 12.5px,#ef9d2f 47.5px,#e78b29 51.5px,#e25b1a 57.5px,#e15819 58.5px)"></i><i style="height:1px;background:linear-gradient(90deg,#e25d1b 0.5px,#e46e21 3.5px,#ea932b 8.5px,#ef9e2f 12.5px,#ef9d2f 47.5px,#e78c29 51.5px,#e2601d 57.5px,#e25d1b 58.5px)"></i><i style="height:1px;background:linear-gradient(90deg,#e2621d 0.5px,#e47222 3.5px,#ea942b 8.5px,#f09f30 13.5px,#ef9d2f 47.5px,#e78e29 51.5px,#e2651e 57.5px,#e2621d 58.5px)"></i><i style="height:1px;background:linear-gradient(90deg,#e2651e 0.5px,#e67c25 4.5px,#ec992d 9.5px,#f0a030 16.5px,#ef9d2f 47.5px,#e88f2a 51.5px,#e3681f 57.5px,#e2651e 58.5px)"></i><i style="height:2px;background:linear-gradient(90deg,#e2671f 0.5px,#ed992d 9.5px,#f0a030 17.5px,#ef9e2f 47.5px,#e9912a 51.5px,#e2671f 58.5px)"></i><i style="height:2px;background:linear-gradient(90deg,#e3681f 0.5px,#ea932b 7.5px,#ef9f30 12.5px,#ef9e2f 47.5px,#e78e29 52.5px,#e3681f 58.5px)"></i><i style="height:1px;background:linear-gradient(90deg,#e36a20 0.5px,#e9922b 6.5px,#f09f30 11.5px,#ef9e2f 48.5px,#e78c29 53.5px,#e36a20 58.5px)"></i><i style="height:1px;background:linear-gradient(90deg,#e36d21 0.5px,#eb952c 6.5px,#f0a130 11.5px,#f0a030 48.5px,#e8902a 53.5px,#e36d21 58.5px)"></i><i style="height:1px;background:linear-gradient(90deg,#e47022 0.5px,#ec982d 6.5px,#f1a431 12.5px,#f0a231 48.5px,#ea932b 53.5px,#e47022 58.5px)"></i><i style="height:1px;background:linear-gradient(90deg,#e47423 0.5px,#ee9b2e 6.5px,#f1a532 12.5px,#f0a331 49.5px,#ec972d 53.5px,#e47423 58.5px)"></i><i style="height:1px;background:linear-gradient(90deg,#e57824 0.5px,#ed9a2e 5.5px,#f1a732 11.5px,#f1a531 49.5px,#ed9a2e 53.5px,#e57824 58.5px)"></i><i style="height:1px;background:linear-gradient(90deg,#e67b25 0.5px,#ef9d2f 5.5px,#f1a933 11.5px,#f1a732 49.5px,#ec982d 54.5px,#e67b25 58.5px)"></i><i style="height:1px;background:linear-gradient(90deg,#e67f26 0.5px,#ee9b2e 4.5px,#f2a933 9.5px,#f2ab33 47.5px,#f0a030 53.5px,#e68427 57.5px,#e67f26 58.5px)"></i><i style="height:1px;background:linear-gradient(90deg,#e68227 0.5px,#f0a331 5.5px,#f2ae34 13.5px,#f2ad34 47.5px,#f0a331 53.5px,#e68227 58.5px)"></i><i style="height:1px;background:linear-gradient(90deg,#e78628 0.5px,#f1a732 5.5px,#f3b135 13.5px,#f3b235 44.5px,#f2a933 52.5px,#ee9c2f 55.5px,#e78628 58.5px)"></i><i style="height:1px;background:linear-gradient(90deg,#e78a28 0.5px,#f1a732 4.5px,#f3b336 10.5px,#f4b837 36.5px,#f3af34 51.5px,#f0a130 55.5px,#e78a28 58.5px)"></i><i style="height:1px;background:linear-gradient(90deg,#e78e29 0.5px,#f2ab33 4.5px,#f4b837 11.5px,#f5bd38 35.5px,#f3b336 51.5px,#f1a531 55.5px,#e78e29 58.5px)"></i><i style="height:1px;background:linear-gradient(90deg,#ea932b 0.5px,#f2af34 4.5px,#f5bb38 11.5px,#f6c23a 34.5px,#f3b536 52.5px,#f2a933 55.5px,#ea932b 58.5px)"></i><i style="height:1px;background:linear-gradient(90deg,#ec972d 0.5px,#f3b335 4.5px,#f5c039 12.5px,#f7c73b 33.5px,#f4b937 52.5px,#f2ad34 55.5px,#ec972d 58.5px)"></i><i style="height:1px;background:linear-gradient(90deg,#ee9c2f 0.5px,#f4b637 4.5px,#f6c43b 13.5px,#f7cd3d 32.5px,#f5bc38 52.5px,#f3b135 55.5px,#ee9c2f 58.5px)"></i><i style="height:1px;background:linear-gradient(90deg,#f0a030 0.5px,#f5be39 5.5px,#f8d13e 24.5px,#f7cd3d 40.5px,#f5be39 53.5px,#f2ae34 56.5px,#f0a030 58.5px)"></i><i style="height:1px;background:linear-gradient(90deg,#f1a531 0.5px,#f5be39 4.5px,#f8ce3e 15.5px,#f8d73f 31.5px,#f6c43b 52.5px,#f4b937 55.5px,#f1a531 58.5px)"></i><i style="height:1px;background:linear-gradient(90deg,#f2a933 0.5px,#f6c23a 4.5px,#f8d33f 16.5px,#f9db40 32.5px,#f6c63b 53.5px,#f4b636 56.5px,#f2a933 58.5px)"></i><i style="height:1px;background:linear-gradient(90deg,#f2ad34 0.5px,#f6c63b 4.5px,#f8da40 19.5px,#f9df41 33.5px,#f7ca3c 53.5px,#f4ba38 56.5px,#f2ad34 58.5px)"></i><i style="height:1px;background:linear-gradient(90deg,#f3b135 0.5px,#f7ca3c 4.5px,#f9df41 20.5px,#f9e241 34.5px,#f8cd3d 53.5px,#f5be39 56.5px,#f3b135 58.5px)"></i><i style="height:1px;background:linear-gradient(90deg,#f4b536 0.5px,#f8ce3d 4.5px,#f9e442 22.5px,#f9e442 36.5px,#f8ce3d 54.5px,#f4b536 58.5px)"></i><i style="height:1px;background:linear-gradient(90deg,#f4b937 0.5px,#f8d23e 4.5px,#f9e843 23.5px,#f9e642 37.5px,#f8d23e 54.5px,#f4b937 58.5px)"></i><i style="height:1px;background:linear-gradient(90deg,#f5bd39 0.5px,#f8d63f 4.5px,#f9ed43 25.5px,#f9e843 39.5px,#f8d63f 54.5px,#f5bd39 58.5px)"></i><i style="height:1px;background:linear-gradient(90deg,#f6c13a 0.5px,#f8da40 4.5px,#faf144 26.5px,#f9ea43 41.5px,#f8da40 54.5px,#f6c13a 58.5px)"></i><i style="height:1px;background:linear-gradient(90deg,#f6c53b 0.5px,#f9dd41 4.5px,#faf445 27.5px,#f9ea43 44.5px,#f9dd41 54.5px,#f6c53b 58.5px)"></i><i style="height:1px;background:linear-gradient(90deg,#f7c93c 0.5px,#f9e141 4.5px,#faf846 27.5px,#f9ee44 44.5px,#f9e141 54.5px,#f7c93c 58.5px)"></i><i style="height:1px;background:linear-gradient(90deg,#f7cd3d 0.5px,#f9e542 4.5px,#f9fa46 26.5px,#faf545 40.5px,#f9e542 54.5px,#f7cd3d 58.5px)"></i><i style="height:1px;background:linear-gradient(90deg,#f8d03e 0.5px,#f9e943 4.5px,#f8fa46 22.5px,#f8fa46 36.5px,#f9e943 54.5px,#f8d03e 58.5px)"></i><i style="height:1px;background:linear-gradient(90deg,#f8d43f 0.5px,#f9ec43 4.5px,#f7fa45 19.5px,#f3fb45 34.5px,#faf445 48.5px,#f9ec43 54.5px,#f8d43f 58.5px)"></i><i style="height:1px;background:linear-gradient(90deg,#f8d840 0.5px,#faf044 4.5px,#f7fa45 16.5px,#f0fb44 33.5px,#faf645 50.5px,#f9eb43 55.5px,#f8d840 58.5px)"></i><i style="height:1px;background:linear-gradient(90deg,#f9dc40 0.5px,#faf445 4.5px,#f7fa45 12.5px,#edfb43 31.5px,#faf846 52.5px,#f9ef44 55.5px,#f9dc40 58.5px)"></i><i style="height:1px;background:linear-gradient(90deg,#f9e041 0.5px,#faf745 4.5px,#ebfb43 30.5px,#faf745 54.5px,#f9e041 58.5px)"></i><i style="height:1px;background:linear-gradient(90deg,#f9e342 0.5px,#f9fa46 4.5px,#e8fc42 29.5px,#f9fa46 54.5px,#f9e342 58.5px)"></i><i style="height:1px;background:linear-gradient(90deg,#f9e742 0.5px,#fafa46 3.5px,#f1fb44 9.5px,#e5fc41 31.5px,#f6fa45 54.5px,#faf345 56.5px,#f9e742 58.5px)"></i><i style="height:1px;background:linear-gradient(90deg,#f9ea43 0.5px,#f8fa45 3.5px,#effb44 8.5px,#e1fc41 31.5px,#f4fb45 54.5px,#faf645 56.5px,#f9ea43 58.5px)"></i><i style="height:1px;background:linear-gradient(90deg,#f9ed43 0.5px,#faf946 2.5px,#eefb43 6.5px,#ddfd40 30.5px,#f1fb44 54.5px,#faf946 56.5px,#f9ed43 58.5px)"></i><i style="height:1px;background:linear-gradient(90deg,#f9ef44 0.5px,#f8fa46 2.5px,#ecfb43 5.5px,#d7fd3e 30.5px,#eefb43 54.5px,#f8fa46 56.5px,#f9ef44 58.5px)"></i><i style="height:1px;background:linear-gradient(90deg,#faf245 0.5px,#f6fa45 2.5px,#eafb42 5.5px,#d0fe3d 29.5px,#ecfb43 54.5px,#faf745 57.5px,#faf245 58.5px)"></i><i style="height:1px;background:linear-gradient(90deg,#faf545 0.5px,#fafa46 1.5px,#e9fb42 4.5px,#d0fe3d 22.5px,#c8fe3c 30.5px,#e6fc42 52.5px,#edfb43 55.5px,#fafa46 57.5px,#faf545 58.5px)"></i><i style="height:1px;background:linear-gradient(90deg,#faf846 0.5px,#e4fc41 5.5px,#d1fe3d 19.5px,#bffe3d 28.5px,#c7fe3c 35.5px,#dffc40 47.5px,#e7fc42 54.5px,#faf846 58.5px)"></i><i style="height:1px;background:linear-gradient(90deg,#f8fa46 0.5px,#e4fc41 4.5px,#d1fe3d 17.5px,#b7fe3d 27.5px,#bafe3d 33.5px,#dbfd3f 46.5px,#e4fc41 54.5px,#f8fa46 58.5px)"></i><i style="height:1px;background:linear-gradient(90deg,#f4fb45 0.5px,#e0fc40 5.5px,#d0fe3d 16.5px,#affd3e 27.5px,#b1fd3e 32.5px,#d7fd3e 45.5px,#e5fc41 55.5px,#f4fb45 58.5px)"></i><i style="height:1px;background:linear-gradient(90deg,#effb44 0.5px,#ddfc40 5.5px,#cefe3c 16.5px,#aafd3e 27.5px,#acfd3e 32.5px,#d5fd3e 45.5px,#e2fc41 55.5px,#effb44 58.5px)"></i><i style="height:1px;background:linear-gradient(90deg,#eafb42 0.5px,#dbfd3f 6.5px,#ccfe3c 16.5px,#a9fd3e 27.5px,#aafd3e 32.5px,#d3fd3d 45.5px,#dffc40 55.5px,#eafb42 58.5px)"></i><i style="height:1px;background:linear-gradient(90deg,#e4fc41 0.5px,#d8fd3f 7.5px,#c8fe3c 17.5px,#acfd3e 27.5px,#affd3e 33.5px,#d3fd3d 46.5px,#dffc40 56.5px,#e4fc41 58.5px)"></i><i style="height:1px;background:linear-gradient(90deg,#dffc40 0.5px,#c8fe3c 17.5px,#b0fd3e 28.5px,#b9fe3d 35.5px,#d4fd3e 48.5px,#dffc40 58.5px)"></i><i style="height:1px;background:linear-gradient(90deg,#dafd3f 0.5px,#c6fe3c 19.5px,#b7fe3d 29.5px,#c8fe3c 40.5px,#dafd3f 58.5px)"></i><i style="height:1px;background:linear-gradient(90deg,#d6fd3e 0.5px,#c9fe3c 19.5px,#befe3d 30.5px,#d2fd3d 49.5px,#d6fd3e 58.5px)"></i><i style="height:1px;background:linear-gradient(90deg,#d3fd3e 0.5px,#cbfe3c 20.5px,#c5fe3c 32.5px,#d2fd3d 52.5px,#d3fd3e 58.5px)"></i><i style="height:1px;background:linear-gradient(90deg,#d3fd3d 0.5px,#cafe3c 33.5px,#d3fd3d 58.5px)"></i><i style="height:2px;background:linear-gradient(90deg,#d2fd3d 0.5px,#cdfe3c 36.5px,#d2fd3d 58.5px)"></i><i style="height:17px;background:#d2fe3d"></i><i style="height:98px;background:#cffe3d"></i><i style="height:24px;background:#cdfe3c"></i></div>
<svg width="520" height="454" viewBox="0 0 520 454">
<defs><clipPath id="ca"><rect x="109" y="21" width="60" height="366"/></clipPath><clipPath id="cb"><rect x="194" y="22" width="59" height="365"/></clipPath></defs>
<g clip-path="url(#ca)" fill="#bfc3ec" stroke="#a9aedc" stroke-width="0.9"><circle cx="109" cy="172" r="8.7"/><circle cx="169" cy="172" r="8.7"/></g>
<g clip-path="url(#cb)" fill="#bfc3ec" stroke="#a9aedc" stroke-width="0.9"><circle cx="194" cy="172.6" r="8.3"/><circle cx="253" cy="172.6" r="8.3"/></g>
<polyline points="122.00,340.00 122.00,250.00 122.40,240.00 123.10,232.00 124.50,225.00 126.30,219.00 128.60,212.00 130.50,203.00 132.20,190.00 133.20,175.00 134.00,150.00 134.50,106.00 134.60,47.00" fill="none" stroke="#000" stroke-opacity="0.72" stroke-width="1.35" stroke-linejoin="round"/>
<polyline points="156.70,340.00 156.60,250.00 156.20,240.00 155.30,232.00 154.00,225.00 152.60,219.00 150.70,212.00 148.50,203.00 146.80,190.00 145.60,175.00 144.60,150.00 144.00,106.00 143.90,47.00" fill="none" stroke="#000" stroke-opacity="0.72" stroke-width="1.35" stroke-linejoin="round"/>
<polygon points="134.60,43.60 137.30,48.80 131.90,48.80" fill="#1a0800"/>
<polygon points="143.90,43.60 146.60,48.80 141.20,48.80" fill="#1a0800"/>
<line x1="199" y1="71.8" x2="248" y2="71.8" stroke="#2a1606" stroke-width="1.5"/>
<polygon points="193.90,71.80 200.90,68.70 200.90,74.90" fill="#2a1606"/>
<polygon points="253.00,71.80 246.00,74.90 246.00,68.70" fill="#2a1606"/>
<line x1="105.5" y1="241.5" x2="256" y2="241.5" stroke="#111" stroke-width="1.2" stroke-dasharray="3.6,2.4"/>
<path d="M36.7,206 L36.7,233.4 L63,233.4" fill="none" stroke="#222" stroke-width="1.3"/>
<polygon points="36.70,201.50 39.40,207.50 34.00,207.50" fill="#222"/>
<polygon points="67.80,233.40 61.80,236.10 61.80,230.70" fill="#222"/>
<line x1="91.5" y1="20.2" x2="100" y2="20.2" stroke="#111" stroke-width="1.5"/>
<polygon points="104.00,20.20 98.50,23.20 98.50,17.20" fill="#111"/>
<line x1="88.4" y1="387.7" x2="96.5" y2="387.7" stroke="#111" stroke-width="1.5"/>
<polygon points="100.50,387.70 95.00,390.70 95.00,384.70" fill="#111"/>
<rect x="345.65" y="39.4" width="171.1" height="117.6" fill="none" stroke="#000" stroke-width="1.75"/>
<line x1="345.6" y1="78.6" x2="351" y2="78.6" stroke="#000" stroke-width="1.5"/>
<line x1="345.6" y1="118.0" x2="351" y2="118.0" stroke="#000" stroke-width="1.5"/>
<line x1="395.0" y1="157" x2="395.0" y2="151.4" stroke="#000" stroke-width="1.5"/>
<line x1="443.6" y1="157" x2="443.6" y2="151.4" stroke="#000" stroke-width="1.5"/>
<line x1="492.2" y1="157" x2="492.2" y2="151.4" stroke="#000" stroke-width="1.5"/>
<polyline points="348.50,142.50 350.90,139.60 356.80,131.40 364.40,123.90 372.20,116.80 381.20,110.00 392.10,103.80 403.00,97.90 417.30,90.80 431.20,85.00 446.00,78.80 462.30,72.10 480.80,65.80 498.80,59.60" fill="none" stroke="#111" stroke-width="1.6"/>
<polyline points="348.50,142.50 350.90,139.60 356.80,131.40 364.40,123.90 372.20,116.80 381.20,110.00 392.10,103.80 403.00,97.90 417.30,90.80 431.20,85.00 446.00,78.80 462.30,72.10 480.80,65.80 498.80,59.60" fill="none" stroke="#8ad47a" stroke-width="1.1" stroke-dasharray="2.6,2.4"/>
<rect x="346.60" y="140.60" width="3.8" height="3.8" fill="#b8c8b0" stroke="#111" stroke-width="1.2"/>
<rect x="349.00" y="137.70" width="3.8" height="3.8" fill="#b8c8b0" stroke="#111" stroke-width="1.2"/>
<rect x="354.90" y="129.50" width="3.8" height="3.8" fill="#b8c8b0" stroke="#111" stroke-width="1.2"/>
<rect x="362.50" y="122.00" width="3.8" height="3.8" fill="#b8c8b0" stroke="#111" stroke-width="1.2"/>
<rect x="370.30" y="114.90" width="3.8" height="3.8" fill="#b8c8b0" stroke="#111" stroke-width="1.2"/>
<rect x="379.30" y="108.10" width="3.8" height="3.8" fill="#b8c8b0" stroke="#111" stroke-width="1.2"/>
<rect x="390.20" y="101.90" width="3.8" height="3.8" fill="#b8c8b0" stroke="#111" stroke-width="1.2"/>
<rect x="401.10" y="96.00" width="3.8" height="3.8" fill="#b8c8b0" stroke="#111" stroke-width="1.2"/>
<rect x="415.40" y="88.90" width="3.8" height="3.8" fill="#b8c8b0" stroke="#111" stroke-width="1.2"/>
<rect x="429.30" y="83.10" width="3.8" height="3.8" fill="#b8c8b0" stroke="#111" stroke-width="1.2"/>
<rect x="444.10" y="76.90" width="3.8" height="3.8" fill="#b8c8b0" stroke="#111" stroke-width="1.2"/>
<rect x="460.40" y="70.20" width="3.8" height="3.8" fill="#b8c8b0" stroke="#111" stroke-width="1.2"/>
<rect x="478.90" y="63.90" width="3.8" height="3.8" fill="#b8c8b0" stroke="#111" stroke-width="1.2"/>
<rect x="496.90" y="57.70" width="3.8" height="3.8" fill="#b8c8b0" stroke="#111" stroke-width="1.2"/>
<line x1="395.5" y1="118.8" x2="426.3" y2="118.8" stroke="#111" stroke-width="1.5"/>
<rect x="409.8" y="116.6" width="4.4" height="4.4" fill="#111"/>
<line x1="395.5" y1="137.5" x2="426.3" y2="137.5" stroke="#74c874" stroke-width="1.7" stroke-dasharray="3.6,1.8"/>
<rect x="344.8" y="249.9" width="171.1" height="118.4" fill="none" stroke="#000" stroke-width="1.75"/>
<line x1="344.8" y1="279.6" x2="350.2" y2="279.6" stroke="#000" stroke-width="1.5"/>
<line x1="344.8" y1="309.2" x2="350.2" y2="309.2" stroke="#000" stroke-width="1.5"/>
<line x1="344.8" y1="338.8" x2="350.2" y2="338.8" stroke="#000" stroke-width="1.5"/>
<line x1="394.2" y1="368.3" x2="394.2" y2="362.7" stroke="#000" stroke-width="1.5"/>
<line x1="442.8" y1="368.3" x2="442.8" y2="362.7" stroke="#000" stroke-width="1.5"/>
<line x1="491.6" y1="368.3" x2="491.6" y2="362.7" stroke="#000" stroke-width="1.5"/>
<line x1="345.5" y1="368.6" x2="499.5" y2="281.0" stroke="#7fd06f" stroke-width="1.6"/>
<polyline points="346.90,365.40 349.80,363.50 356.20,361.00 363.30,356.80 371.50,352.40 380.60,347.20 391.50,341.40 401.70,334.50 416.70,326.40 430.60,317.30 445.20,309.10 461.30,299.40 480.20,290.40 498.50,279.60" fill="none" stroke="#111" stroke-width="1.3"/>
<rect x="344.70" y="361.60" width="4.4" height="4.4" fill="#111" stroke="#111" stroke-width="1"/>
<rect x="347.60" y="359.70" width="4.4" height="4.4" fill="#111" stroke="#111" stroke-width="1"/>
<rect x="354.00" y="357.20" width="4.4" height="4.4" fill="#111" stroke="#111" stroke-width="1"/>
<rect x="361.10" y="353.00" width="4.4" height="4.4" fill="#111" stroke="#111" stroke-width="1"/>
<rect x="369.30" y="348.60" width="4.4" height="4.4" fill="#111" stroke="#111" stroke-width="1"/>
<rect x="378.40" y="343.40" width="4.4" height="4.4" fill="#111" stroke="#111" stroke-width="1"/>
<rect x="389.30" y="337.60" width="4.4" height="4.4" fill="#111" stroke="#111" stroke-width="1"/>
<rect x="399.50" y="330.70" width="4.4" height="4.4" fill="#111" stroke="#111" stroke-width="1"/>
<rect x="414.50" y="322.60" width="4.4" height="4.4" fill="#111" stroke="#111" stroke-width="1"/>
<rect x="428.40" y="314.50" width="4.4" height="4.4" fill="#111" stroke="#111" stroke-width="1"/>
<rect x="443.00" y="306.30" width="4.4" height="4.4" fill="#111" stroke="#111" stroke-width="1"/>
<rect x="459.10" y="296.60" width="4.4" height="4.4" fill="#111" stroke="#111" stroke-width="1"/>
<rect x="478.00" y="287.60" width="4.4" height="4.4" fill="#111" stroke="#111" stroke-width="1"/>
<rect x="496.30" y="276.80" width="4.4" height="4.4" fill="#777" stroke="#111" stroke-width="1"/>
<line x1="357.5" y1="262.5" x2="387.3" y2="262.5" stroke="#111" stroke-width="1.5"/>
<rect x="370.1" y="260.3" width="4.4" height="4.4" fill="#111"/>
<line x1="357.5" y1="280.4" x2="387.3" y2="280.4" stroke="#74c874" stroke-width="1.7" stroke-dasharray="3.6,1.8"/>
<text transform="translate(53.67,25.03) scale(1.000,0.920)" font-family="'Liberation Serif','Times New Roman',serif" font-size="15.91" fill="#1a1a1a" stroke="#1a1a1a" stroke-width="0.35">outlet</text>
<text x="125.47" y="12.71" font-family="'Liberation Serif','Times New Roman',serif" font-size="15.91" fill="#1a1a1a" stroke="#1a1a1a" stroke-width="0.20" font-weight="bold">(a)</text>
<text x="209.86" y="13.34" font-family="'Liberation Serif','Times New Roman',serif" font-size="16.26" fill="#1a1a1a" stroke="#1a1a1a" stroke-width="0.20" font-weight="bold">(b)</text>
<text x="135.61" y="38.77" font-family="'Liberation Serif','Times New Roman',serif" font-size="13.71" fill="#fff4ec" font-weight="bold" font-style="italic">u</text>
<text x="218.58" y="40.71" font-family="'Liberation Serif','Times New Roman',serif" font-size="16.10" fill="#fbe6b4" font-style="italic">p</text>
<text x="204.07" y="66.40" font-family="'Liberation Serif','Times New Roman',serif" font-size="15.77" fill="#201408" stroke="#201408" stroke-width="0.35">20mm</text>
<text transform="translate(192.56,159.42) scale(1.000,0.920)" font-family="'Liberation Serif','Times New Roman',serif" font-size="16.05" fill="#1c1a08" stroke="#1c1a08" stroke-width="0.35">collector</text>
<text x="32.84" y="195.22" font-family="'Liberation Serif','Times New Roman',serif" font-size="15.60" fill="#1a1a1a" font-style="italic">y</text>
<text x="71.57" y="235.50" font-family="'Liberation Serif','Times New Roman',serif" font-size="16.44" fill="#1a1a1a" font-style="italic">x</text>
<text transform="translate(201.87,256.65) scale(1.000,0.920)" font-family="'Liberation Serif','Times New Roman',serif" font-size="15.79" fill="#1c2008" stroke="#1c2008" stroke-width="0.35">emitter</text>
<text transform="translate(54.35,391.90) scale(1.000,0.920)" font-family="'Liberation Serif','Times New Roman',serif" font-size="15.17" fill="#1a1a1a" stroke="#1a1a1a" stroke-width="0.35">inlet</text>
<text transform="translate(15.90,408.54) scale(1.000,0.920)" font-family="'Liberation Serif','Times New Roman',serif" font-size="15.92" fill="#1a1a1a" stroke="#1a1a1a" stroke-width="0.35">blue(low)</text>
<text transform="translate(14.96,421.35) scale(1.000,0.920)" font-family="'Liberation Serif','Times New Roman',serif" font-size="16.17" fill="#1a1a1a" stroke="#1a1a1a" stroke-width="0.35">green(middle)</text>
<text transform="translate(15.23,433.86) scale(1.000,0.920)" font-family="'Liberation Serif','Times New Roman',serif" font-size="16.25" fill="#1a1a1a" stroke="#1a1a1a" stroke-width="0.35">red(high)</text>
<text transform="translate(10.05,446.29) scale(1.000,0.920)" font-family="'Liberation Serif','Times New Roman',serif" font-size="16.51" fill="#1a1a1a" stroke="#1a1a1a" stroke-width="0.35">(unit)</text>
<text transform="translate(0.56,421.73) scale(0.799,1.000)" font-family="'Liberation Serif','Noto Serif CJK SC','Noto Sans CJK SC',serif" font-size="16.00" fill="#1a1a1a" stroke="#1a1a1a" stroke-width="0.30">～</text>
<text transform="translate(0.56,435.29) scale(0.824,1.000)" font-family="'Liberation Serif','Noto Serif CJK SC','Noto Sans CJK SC',serif" font-size="15.50" fill="#1a1a1a" stroke="#1a1a1a" stroke-width="0.30">～</text>
<text transform="translate(132.93,403.76) scale(1.000,0.920)" font-family="'Liberation Serif','Times New Roman',serif" font-size="15.30" fill="#1a1a1a" stroke="#1a1a1a" stroke-width="0.35">0</text>
<text transform="translate(132.47,417.22) scale(1.000,0.920)" font-family="'Liberation Serif','Times New Roman',serif" font-size="16.04" fill="#1a1a1a" stroke="#1a1a1a" stroke-width="0.35">0.66</text>
<text transform="translate(132.13,430.98) scale(1.000,0.920)" font-family="'Liberation Serif','Times New Roman',serif" font-size="16.39" fill="#1a1a1a" stroke="#1a1a1a" stroke-width="0.35">1.32</text>
<text transform="translate(132.67,444.77) scale(1.000,0.920)" font-family="'Liberation Serif','Times New Roman',serif" font-size="15.93" fill="#1a1a1a" stroke="#1a1a1a" stroke-width="0.35">(m/s)</text>
<text transform="translate(118.56,418.23) scale(0.806,1.000)" font-family="'Liberation Serif','Noto Serif CJK SC','Noto Sans CJK SC',serif" font-size="16.00" fill="#1a1a1a" stroke="#1a1a1a" stroke-width="0.30">～</text>
<text transform="translate(118.56,431.73) scale(0.806,1.000)" font-family="'Liberation Serif','Noto Serif CJK SC','Noto Sans CJK SC',serif" font-size="16.00" fill="#1a1a1a" stroke="#1a1a1a" stroke-width="0.30">～</text>
<text transform="translate(202.00,407.66) scale(1.000,0.920)" font-family="'Liberation Serif','Times New Roman',serif" font-size="16.00" fill="#1a1a1a" stroke="#1a1a1a" stroke-width="0.35">−1.44</text>
<text transform="translate(202.01,419.14) scale(1.000,0.920)" font-family="'Liberation Serif','Times New Roman',serif" font-size="15.76" fill="#1a1a1a" stroke="#1a1a1a" stroke-width="0.35">−0.58</text>
<text transform="translate(202.97,432.42) scale(1.000,0.920)" font-family="'Liberation Serif','Times New Roman',serif" font-size="16.04" fill="#1a1a1a" stroke="#1a1a1a" stroke-width="0.35">0.28</text>
<text transform="translate(203.44,444.54) scale(1.000,0.920)" font-family="'Liberation Serif','Times New Roman',serif" font-size="16.71" fill="#1a1a1a" stroke="#1a1a1a" stroke-width="0.35">(pascal)</text>
<text transform="translate(188.97,420.23) scale(0.792,1.000)" font-family="'Liberation Serif','Noto Serif CJK SC','Noto Sans CJK SC',serif" font-size="16.00" fill="#1a1a1a" stroke="#1a1a1a" stroke-width="0.30">～</text>
<text transform="translate(188.97,433.23) scale(0.792,1.000)" font-family="'Liberation Serif','Noto Serif CJK SC','Noto Sans CJK SC',serif" font-size="16.00" fill="#1a1a1a" stroke="#1a1a1a" stroke-width="0.30">～</text>
<text x="355.75" y="24.47" font-family="'Liberation Serif','Times New Roman',serif" font-size="16.35" fill="#1a1a1a" stroke="#1a1a1a" stroke-width="0.20" font-weight="bold">(c)</text>
<text x="365.96" y="235.50" font-family="'Liberation Serif','Times New Roman',serif" font-size="16.09" fill="#1a1a1a" stroke="#1a1a1a" stroke-width="0.20" font-weight="bold">(d)</text>
<text transform="translate(306.70,43.66) scale(1.063,1.000)" font-family="'Liberation Sans',Arial,sans-serif" font-size="14.14" fill="#3a3a3a" stroke="#3a3a3a" stroke-width="0.28">1.5</text>
<text transform="translate(306.67,83.27) scale(1.117,1.000)" font-family="'Liberation Sans',Arial,sans-serif" font-size="13.81" fill="#3a3a3a" stroke="#3a3a3a" stroke-width="0.27">1.0</text>
<text transform="translate(306.39,122.58) scale(1.145,1.000)" font-family="'Liberation Sans',Arial,sans-serif" font-size="13.40" fill="#3a3a3a" stroke="#3a3a3a" stroke-width="0.26">0.5</text>
<text transform="translate(306.39,161.78) scale(1.152,1.000)" font-family="'Liberation Sans',Arial,sans-serif" font-size="13.26" fill="#3a3a3a" stroke="#3a3a3a" stroke-width="0.26">0.0</text>
<text transform="translate(333.70,183.29) scale(1.184,1.000)" font-family="'Liberation Sans',Arial,sans-serif" font-size="12.70" fill="#3a3a3a" stroke="#3a3a3a" stroke-width="0.25">0.0</text>
<text transform="translate(383.02,183.28) scale(1.110,1.000)" font-family="'Liberation Sans',Arial,sans-serif" font-size="12.98" fill="#3a3a3a" stroke="#3a3a3a" stroke-width="0.27">0.4</text>
<text transform="translate(430.70,182.99) scale(1.177,1.000)" font-family="'Liberation Sans',Arial,sans-serif" font-size="12.84" fill="#3a3a3a" stroke="#3a3a3a" stroke-width="0.25">0.8</text>
<text transform="translate(480.34,183.50) scale(1.009,1.000)" font-family="'Liberation Sans',Arial,sans-serif" font-size="14.29" fill="#3a3a3a" stroke="#3a3a3a" stroke-width="0.30">1.2</text>
<text transform="translate(413.09,198.49) scale(1.118,1.000)" font-family="'Liberation Sans',Arial,sans-serif" font-size="13.53" fill="#222" stroke="#222" stroke-width="0.27" font-weight="bold">I(mA)</text>
<text transform="translate(428.31,124.34) scale(1.196,1.000)" font-family="'Liberation Sans',Arial,sans-serif" font-size="12.47" fill="#3a3a3a" stroke="#3a3a3a" stroke-width="0.25">u,sim</text>
<text transform="translate(428.80,141.16) scale(1.053,1.000)" font-family="'Liberation Sans',Arial,sans-serif" font-size="14.18" fill="#3a3a3a" stroke="#3a3a3a" stroke-width="0.28">equation (2)</text>
<text transform="translate(306.25,254.07) scale(1.091,1.000)" font-family="'Liberation Sans',Arial,sans-serif" font-size="13.81" fill="#3a3a3a" stroke="#3a3a3a" stroke-width="0.27">4.0</text>
<text transform="translate(305.99,284.17) scale(1.116,1.000)" font-family="'Liberation Sans',Arial,sans-serif" font-size="13.67" fill="#3a3a3a" stroke="#3a3a3a" stroke-width="0.27">3.0</text>
<text transform="translate(305.30,314.38) scale(1.226,1.000)" font-family="'Liberation Sans',Arial,sans-serif" font-size="13.12" fill="#3a3a3a" stroke="#3a3a3a" stroke-width="0.24">2.0</text>
<text transform="translate(305.75,344.28) scale(1.175,1.000)" font-family="'Liberation Sans',Arial,sans-serif" font-size="13.40" fill="#3a3a3a" stroke="#3a3a3a" stroke-width="0.26">1.0</text>
<text transform="translate(305.57,374.17) scale(1.173,1.000)" font-family="'Liberation Sans',Arial,sans-serif" font-size="13.53" fill="#3a3a3a" stroke="#3a3a3a" stroke-width="0.26">0.0</text>
<text transform="translate(332.50,394.39) scale(1.166,1.000)" font-family="'Liberation Sans',Arial,sans-serif" font-size="12.84" fill="#3a3a3a" stroke="#3a3a3a" stroke-width="0.26">0.0</text>
<text transform="translate(382.52,394.39) scale(1.110,1.000)" font-family="'Liberation Sans',Arial,sans-serif" font-size="12.84" fill="#3a3a3a" stroke="#3a3a3a" stroke-width="0.27">0.4</text>
<text transform="translate(430.71,394.39) scale(1.148,1.000)" font-family="'Liberation Sans',Arial,sans-serif" font-size="12.84" fill="#3a3a3a" stroke="#3a3a3a" stroke-width="0.26">0.8</text>
<text transform="translate(479.55,394.60) scale(1.040,1.000)" font-family="'Liberation Sans',Arial,sans-serif" font-size="13.71" fill="#3a3a3a" stroke="#3a3a3a" stroke-width="0.29">1.2</text>
<text transform="translate(412.80,410.54) scale(1.127,1.000)" font-family="'Liberation Sans',Arial,sans-serif" font-size="13.31" fill="#222" stroke="#222" stroke-width="0.27" font-weight="bold">I(mA)</text>
<text transform="translate(390.47,267.20) scale(1.088,1.000)" font-family="'Liberation Sans',Arial,sans-serif" font-size="13.53" fill="#3a3a3a" stroke="#3a3a3a" stroke-width="0.28">Df,sim</text>
<text transform="translate(391.20,284.45) scale(0.978,1.000)" font-family="'Liberation Sans',Arial,sans-serif" font-size="15.27" fill="#3a3a3a" stroke="#3a3a3a" stroke-width="0.30">equation (13)</text>
<text transform="translate(296.84,117.80) rotate(-90)" font-family="'Liberation Sans',Arial,sans-serif" font-size="15.03" fill="#222" font-weight="bold">m/s</text>
<text transform="translate(295.80,310.65) rotate(-90)" font-family="'Liberation Sans',Arial,sans-serif" font-size="12.00" fill="#222" font-weight="bold">g</text>
</svg>
</body></html>
